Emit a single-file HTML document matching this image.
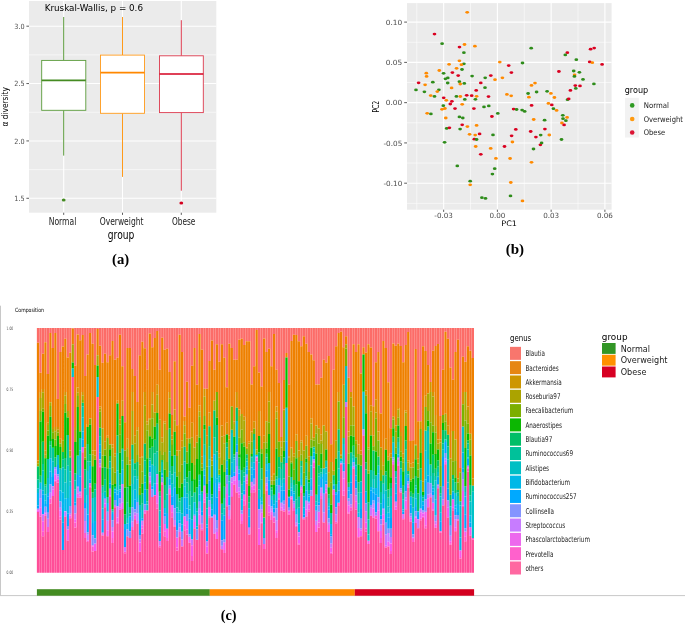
<!DOCTYPE html>
<html><head><meta charset="utf-8"><style>
html,body{margin:0;padding:0;background:#fff;width:685px;height:624px;overflow:hidden}
svg{display:block}
.gl{font-stretch:condensed}
</style></head><body>
<svg width="685" height="624" viewBox="0 0 685 624">
<defs><filter id="soft" x="0" y="0" width="1" height="1" color-interpolation-filters="sRGB"><feGaussianBlur stdDeviation="0.35"/></filter></defs>
<rect width="685" height="624" fill="#fff"/>
<g filter="url(#soft)">
<rect width="685" height="624" fill="#fff"/>
<rect x="29.0" y="1.0" width="187.30" height="211.70" fill="#EBEBEB"/>
<line x1="29.0" x2="216.3" y1="169.61" y2="169.61" stroke="#fff" stroke-width="0.55"/>
<line x1="29.0" x2="216.3" y1="112.25" y2="112.25" stroke="#fff" stroke-width="0.55"/>
<line x1="29.0" x2="216.3" y1="54.88" y2="54.88" stroke="#fff" stroke-width="0.55"/>
<line x1="29.0" x2="216.3" y1="198.29" y2="198.29" stroke="#fff" stroke-width="1.1"/>
<line x1="29.0" x2="216.3" y1="140.93" y2="140.93" stroke="#fff" stroke-width="1.1"/>
<line x1="29.0" x2="216.3" y1="83.56" y2="83.56" stroke="#fff" stroke-width="1.1"/>
<line x1="29.0" x2="216.3" y1="26.20" y2="26.20" stroke="#fff" stroke-width="1.1"/>
<line x1="63.7" x2="63.7" y1="1.0" y2="212.7" stroke="#fff" stroke-width="1.1"/>
<line x1="122.5" x2="122.5" y1="1.0" y2="212.7" stroke="#fff" stroke-width="1.1"/>
<line x1="181.3" x2="181.3" y1="1.0" y2="212.7" stroke="#fff" stroke-width="1.1"/>
<line x1="63.7" x2="63.7" y1="17.0" y2="60.4" stroke="#5A9A3A" stroke-width="1"/>
<line x1="63.7" x2="63.7" y1="110.3" y2="155.6" stroke="#5A9A3A" stroke-width="1"/>
<rect x="41.7" y="60.4" width="44.10" height="49.90" fill="#fff" stroke="#5A9A3A" stroke-width="0.9"/>
<line x1="41.7" x2="85.8" y1="80.4" y2="80.4" stroke="#458B22" stroke-width="1.7"/>
<ellipse cx="63.7" cy="200.1" rx="1.9" ry="1.5" fill="#458B22"/>
<line x1="122.5" x2="122.5" y1="17.0" y2="55.1" stroke="#FF9A1A" stroke-width="1"/>
<line x1="122.5" x2="122.5" y1="113.3" y2="176.9" stroke="#FF9A1A" stroke-width="1"/>
<rect x="100.5" y="55.1" width="44.00" height="58.20" fill="#fff" stroke="#FF9A1A" stroke-width="0.9"/>
<line x1="100.5" x2="144.5" y1="72.7" y2="72.7" stroke="#FF8800" stroke-width="1.7"/>
<line x1="181.3" x2="181.3" y1="20.2" y2="55.8" stroke="#DC3A4E" stroke-width="1"/>
<line x1="181.3" x2="181.3" y1="112.6" y2="190.7" stroke="#DC3A4E" stroke-width="1"/>
<rect x="159.5" y="55.8" width="43.80" height="56.80" fill="#fff" stroke="#DC3A4E" stroke-width="0.9"/>
<line x1="159.5" x2="203.3" y1="74.0" y2="74.0" stroke="#D4001F" stroke-width="1.7"/>
<ellipse cx="181.3" cy="203.1" rx="1.9" ry="1.5" fill="#D4001F"/>
<line x1="26.4" x2="29.0" y1="198.29" y2="198.29" stroke="#333" stroke-width="0.8"/>
<text x="24.60" y="200.89" font-size="7.2" fill="#4D4D4D" font-family="DejaVu Sans, Liberation Sans, sans-serif" text-anchor="end" textLength="10.30" lengthAdjust="spacingAndGlyphs">1.5</text>
<line x1="26.4" x2="29.0" y1="140.93" y2="140.93" stroke="#333" stroke-width="0.8"/>
<text x="24.60" y="143.53" font-size="7.2" fill="#4D4D4D" font-family="DejaVu Sans, Liberation Sans, sans-serif" text-anchor="end" textLength="10.30" lengthAdjust="spacingAndGlyphs">2.0</text>
<line x1="26.4" x2="29.0" y1="83.56" y2="83.56" stroke="#333" stroke-width="0.8"/>
<text x="24.60" y="86.16" font-size="7.2" fill="#4D4D4D" font-family="DejaVu Sans, Liberation Sans, sans-serif" text-anchor="end" textLength="10.30" lengthAdjust="spacingAndGlyphs">2.5</text>
<line x1="26.4" x2="29.0" y1="26.20" y2="26.20" stroke="#333" stroke-width="0.8"/>
<text x="24.60" y="28.80" font-size="7.2" fill="#4D4D4D" font-family="DejaVu Sans, Liberation Sans, sans-serif" text-anchor="end" textLength="10.30" lengthAdjust="spacingAndGlyphs">3.0</text>
<line x1="63.7" x2="63.7" y1="212.7" y2="214.90" stroke="#333" stroke-width="0.8"/>
<line x1="122.5" x2="122.5" y1="212.7" y2="214.90" stroke="#333" stroke-width="0.8"/>
<line x1="181.3" x2="181.3" y1="212.7" y2="214.90" stroke="#333" stroke-width="0.8"/>
<text x="48.70" y="224.60" font-size="10" fill="#1A1A1A" font-family="DejaVu Sans, Liberation Sans, sans-serif" textLength="27.60" lengthAdjust="spacingAndGlyphs">Normal</text>
<text x="99.70" y="224.70" font-size="10" fill="#1A1A1A" font-family="DejaVu Sans, Liberation Sans, sans-serif" textLength="43.80" lengthAdjust="spacingAndGlyphs">Overweight</text>
<text x="172.00" y="224.70" font-size="10" fill="#1A1A1A" font-family="DejaVu Sans, Liberation Sans, sans-serif" textLength="23.40" lengthAdjust="spacingAndGlyphs">Obese</text>
<text x="107.80" y="239.00" font-size="13" fill="#000" font-family="DejaVu Sans, Liberation Sans, sans-serif" textLength="26.50" lengthAdjust="spacingAndGlyphs">group</text>
<text x="7.60" y="126.50" font-size="8.8" fill="#000" font-family="DejaVu Sans, Liberation Sans, sans-serif" textLength="39.30" lengthAdjust="spacingAndGlyphs" transform="rotate(-90 7.60 126.50)">α diversity</text>
<text x="44.70" y="10.90" font-size="8.2" fill="#000" font-family="DejaVu Sans, Liberation Sans, sans-serif" textLength="98.30" lengthAdjust="spacingAndGlyphs">Kruskal-Wallis, p = 0.6</text>
<text x="112.00" y="264.00" font-size="15" fill="#000" font-family="Liberation Serif, serif" font-weight="bold" textLength="17.20" lengthAdjust="spacingAndGlyphs">(a)</text>
<rect x="407.0" y="3.1" width="204.60" height="206.60" fill="#EBEBEB"/>
<line x1="407.0" x2="611.6" y1="203.34" y2="203.34" stroke="#fff" stroke-width="0.55"/>
<line x1="407.0" x2="611.6" y1="163.06" y2="163.06" stroke="#fff" stroke-width="0.55"/>
<line x1="407.0" x2="611.6" y1="122.79" y2="122.79" stroke="#fff" stroke-width="0.55"/>
<line x1="407.0" x2="611.6" y1="82.51" y2="82.51" stroke="#fff" stroke-width="0.55"/>
<line x1="407.0" x2="611.6" y1="42.24" y2="42.24" stroke="#fff" stroke-width="0.55"/>
<line x1="416.77" x2="416.77" y1="3.1" y2="209.7" stroke="#fff" stroke-width="0.55"/>
<line x1="470.52" x2="470.52" y1="3.1" y2="209.7" stroke="#fff" stroke-width="0.55"/>
<line x1="524.28" x2="524.28" y1="3.1" y2="209.7" stroke="#fff" stroke-width="0.55"/>
<line x1="578.03" x2="578.03" y1="3.1" y2="209.7" stroke="#fff" stroke-width="0.55"/>
<line x1="407.0" x2="611.6" y1="183.20" y2="183.20" stroke="#fff" stroke-width="1.1"/>
<line x1="407.0" x2="611.6" y1="142.93" y2="142.93" stroke="#fff" stroke-width="1.1"/>
<line x1="407.0" x2="611.6" y1="102.65" y2="102.65" stroke="#fff" stroke-width="1.1"/>
<line x1="407.0" x2="611.6" y1="62.38" y2="62.38" stroke="#fff" stroke-width="1.1"/>
<line x1="407.0" x2="611.6" y1="22.10" y2="22.10" stroke="#fff" stroke-width="1.1"/>
<line x1="443.65" x2="443.65" y1="3.1" y2="209.7" stroke="#fff" stroke-width="1.1"/>
<line x1="497.40" x2="497.40" y1="3.1" y2="209.7" stroke="#fff" stroke-width="1.1"/>
<line x1="551.15" x2="551.15" y1="3.1" y2="209.7" stroke="#fff" stroke-width="1.1"/>
<line x1="604.90" x2="604.90" y1="3.1" y2="209.7" stroke="#fff" stroke-width="1.1"/>
<ellipse cx="467.2" cy="12.3" rx="1.85" ry="1.4" fill="#FF8A00"/>
<ellipse cx="434.5" cy="34.1" rx="1.85" ry="1.4" fill="#DA0020"/>
<ellipse cx="442.1" cy="43.7" rx="1.85" ry="1.4" fill="#2E8C1A"/>
<ellipse cx="464.5" cy="44.5" rx="1.85" ry="1.4" fill="#FF8A00"/>
<ellipse cx="459.5" cy="47.1" rx="1.85" ry="1.4" fill="#DA0020"/>
<ellipse cx="474.9" cy="46.2" rx="1.85" ry="1.4" fill="#FF8A00"/>
<ellipse cx="463.9" cy="52.7" rx="1.85" ry="1.4" fill="#2E8C1A"/>
<ellipse cx="459.4" cy="60.8" rx="1.85" ry="1.4" fill="#FF8A00"/>
<ellipse cx="449.1" cy="64.3" rx="1.85" ry="1.4" fill="#FF8A00"/>
<ellipse cx="463.9" cy="63.8" rx="1.85" ry="1.4" fill="#2E8C1A"/>
<ellipse cx="461.4" cy="64.7" rx="1.85" ry="1.4" fill="#FF8A00"/>
<ellipse cx="456.6" cy="68.3" rx="1.85" ry="1.4" fill="#FF8A00"/>
<ellipse cx="462.0" cy="69.5" rx="1.85" ry="1.4" fill="#2E8C1A"/>
<ellipse cx="439.3" cy="70.5" rx="1.85" ry="1.4" fill="#FF8A00"/>
<ellipse cx="426.3" cy="73.2" rx="1.85" ry="1.4" fill="#FF8A00"/>
<ellipse cx="426.6" cy="76.4" rx="1.85" ry="1.4" fill="#FF8A00"/>
<ellipse cx="443.6" cy="73.3" rx="1.85" ry="1.4" fill="#2E8C1A"/>
<ellipse cx="452.4" cy="72.6" rx="1.85" ry="1.4" fill="#DA0020"/>
<ellipse cx="458.2" cy="75.6" rx="1.85" ry="1.4" fill="#DA0020"/>
<ellipse cx="472.1" cy="76.1" rx="1.85" ry="1.4" fill="#2E8C1A"/>
<ellipse cx="445.4" cy="78.8" rx="1.85" ry="1.4" fill="#2E8C1A"/>
<ellipse cx="447.8" cy="77.9" rx="1.85" ry="1.4" fill="#2E8C1A"/>
<ellipse cx="418.6" cy="82.8" rx="1.85" ry="1.4" fill="#DA0020"/>
<ellipse cx="432.8" cy="82.2" rx="1.85" ry="1.4" fill="#2E8C1A"/>
<ellipse cx="425.1" cy="84.8" rx="1.85" ry="1.4" fill="#FF8A00"/>
<ellipse cx="447.7" cy="83.0" rx="1.85" ry="1.4" fill="#2E8C1A"/>
<ellipse cx="459.4" cy="81.7" rx="1.85" ry="1.4" fill="#2E8C1A"/>
<ellipse cx="460.3" cy="84.0" rx="1.85" ry="1.4" fill="#FF8A00"/>
<ellipse cx="464.3" cy="83.4" rx="1.85" ry="1.4" fill="#2E8C1A"/>
<ellipse cx="416.0" cy="89.9" rx="1.85" ry="1.4" fill="#2E8C1A"/>
<ellipse cx="424.4" cy="91.8" rx="1.85" ry="1.4" fill="#2E8C1A"/>
<ellipse cx="438.9" cy="89.8" rx="1.85" ry="1.4" fill="#2E8C1A"/>
<ellipse cx="437.3" cy="91.6" rx="1.85" ry="1.4" fill="#FF8A00"/>
<ellipse cx="451.6" cy="87.9" rx="1.85" ry="1.4" fill="#FF8A00"/>
<ellipse cx="476.2" cy="90.4" rx="1.85" ry="1.4" fill="#DA0020"/>
<ellipse cx="430.7" cy="95.6" rx="1.85" ry="1.4" fill="#FF8A00"/>
<ellipse cx="434.5" cy="96.4" rx="1.85" ry="1.4" fill="#2E8C1A"/>
<ellipse cx="456.4" cy="96.4" rx="1.85" ry="1.4" fill="#2E8C1A"/>
<ellipse cx="460.3" cy="96.5" rx="1.85" ry="1.4" fill="#FF8A00"/>
<ellipse cx="466.7" cy="95.3" rx="1.85" ry="1.4" fill="#DA0020"/>
<ellipse cx="471.7" cy="95.7" rx="1.85" ry="1.4" fill="#DA0020"/>
<ellipse cx="476.6" cy="96.3" rx="1.85" ry="1.4" fill="#FF8A00"/>
<ellipse cx="443.7" cy="97.8" rx="1.85" ry="1.4" fill="#DA0020"/>
<ellipse cx="446.3" cy="100.3" rx="1.85" ry="1.4" fill="#FF8A00"/>
<ellipse cx="464.8" cy="99.4" rx="1.85" ry="1.4" fill="#2E8C1A"/>
<ellipse cx="475.4" cy="99.3" rx="1.85" ry="1.4" fill="#2E8C1A"/>
<ellipse cx="451.9" cy="101.3" rx="1.85" ry="1.4" fill="#DA0020"/>
<ellipse cx="450.3" cy="104.0" rx="1.85" ry="1.4" fill="#DA0020"/>
<ellipse cx="462.2" cy="104.3" rx="1.85" ry="1.4" fill="#FF8A00"/>
<ellipse cx="443.3" cy="105.7" rx="1.85" ry="1.4" fill="#2E8C1A"/>
<ellipse cx="442.0" cy="109.3" rx="1.85" ry="1.4" fill="#FF8A00"/>
<ellipse cx="444.9" cy="108.5" rx="1.85" ry="1.4" fill="#FF8A00"/>
<ellipse cx="455.0" cy="108.6" rx="1.85" ry="1.4" fill="#DA0020"/>
<ellipse cx="473.9" cy="108.6" rx="1.85" ry="1.4" fill="#DA0020"/>
<ellipse cx="427.2" cy="113.3" rx="1.85" ry="1.4" fill="#FF8A00"/>
<ellipse cx="430.9" cy="113.9" rx="1.85" ry="1.4" fill="#2E8C1A"/>
<ellipse cx="445.8" cy="118.0" rx="1.85" ry="1.4" fill="#FF8A00"/>
<ellipse cx="459.4" cy="116.9" rx="1.85" ry="1.4" fill="#2E8C1A"/>
<ellipse cx="462.8" cy="118.0" rx="1.85" ry="1.4" fill="#2E8C1A"/>
<ellipse cx="462.2" cy="124.8" rx="1.85" ry="1.4" fill="#DA0020"/>
<ellipse cx="467.4" cy="126.6" rx="1.85" ry="1.4" fill="#FF8A00"/>
<ellipse cx="476.6" cy="125.4" rx="1.85" ry="1.4" fill="#FF8A00"/>
<ellipse cx="446.7" cy="128.4" rx="1.85" ry="1.4" fill="#2E8C1A"/>
<ellipse cx="449.4" cy="127.8" rx="1.85" ry="1.4" fill="#DA0020"/>
<ellipse cx="460.1" cy="129.1" rx="1.85" ry="1.4" fill="#2E8C1A"/>
<ellipse cx="469.6" cy="134.3" rx="1.85" ry="1.4" fill="#FF8A00"/>
<ellipse cx="475.2" cy="135.1" rx="1.85" ry="1.4" fill="#FF8A00"/>
<ellipse cx="474.3" cy="139.2" rx="1.85" ry="1.4" fill="#DA0020"/>
<ellipse cx="476.6" cy="139.5" rx="1.85" ry="1.4" fill="#2E8C1A"/>
<ellipse cx="444.6" cy="142.3" rx="1.85" ry="1.4" fill="#2E8C1A"/>
<ellipse cx="475.7" cy="146.5" rx="1.85" ry="1.4" fill="#FF8A00"/>
<ellipse cx="457.3" cy="165.9" rx="1.85" ry="1.4" fill="#2E8C1A"/>
<ellipse cx="470.2" cy="181.2" rx="1.85" ry="1.4" fill="#2E8C1A"/>
<ellipse cx="470.2" cy="184.8" rx="1.85" ry="1.4" fill="#FF8A00"/>
<ellipse cx="531.2" cy="48.2" rx="1.85" ry="1.4" fill="#2E8C1A"/>
<ellipse cx="499.8" cy="62.1" rx="1.85" ry="1.4" fill="#FF8A00"/>
<ellipse cx="522.5" cy="63.0" rx="1.85" ry="1.4" fill="#2E8C1A"/>
<ellipse cx="508.7" cy="65.6" rx="1.85" ry="1.4" fill="#DA0020"/>
<ellipse cx="485.2" cy="77.8" rx="1.85" ry="1.4" fill="#2E8C1A"/>
<ellipse cx="490.8" cy="75.6" rx="1.85" ry="1.4" fill="#DA0020"/>
<ellipse cx="495.0" cy="79.7" rx="1.85" ry="1.4" fill="#FF8A00"/>
<ellipse cx="502.4" cy="77.8" rx="1.85" ry="1.4" fill="#FF8A00"/>
<ellipse cx="511.4" cy="72.6" rx="1.85" ry="1.4" fill="#DA0020"/>
<ellipse cx="480.8" cy="82.9" rx="1.85" ry="1.4" fill="#DA0020"/>
<ellipse cx="485.0" cy="87.7" rx="1.85" ry="1.4" fill="#2E8C1A"/>
<ellipse cx="488.5" cy="96.6" rx="1.85" ry="1.4" fill="#DA0020"/>
<ellipse cx="506.9" cy="94.4" rx="1.85" ry="1.4" fill="#FF8A00"/>
<ellipse cx="511.2" cy="95.8" rx="1.85" ry="1.4" fill="#FF8A00"/>
<ellipse cx="535.0" cy="83.1" rx="1.85" ry="1.4" fill="#FF8A00"/>
<ellipse cx="531.5" cy="85.4" rx="1.85" ry="1.4" fill="#FF8A00"/>
<ellipse cx="528.1" cy="93.5" rx="1.85" ry="1.4" fill="#2E8C1A"/>
<ellipse cx="536.6" cy="92.0" rx="1.85" ry="1.4" fill="#2E8C1A"/>
<ellipse cx="528.9" cy="97.2" rx="1.85" ry="1.4" fill="#FF8A00"/>
<ellipse cx="484.0" cy="106.9" rx="1.85" ry="1.4" fill="#2E8C1A"/>
<ellipse cx="488.8" cy="105.9" rx="1.85" ry="1.4" fill="#2E8C1A"/>
<ellipse cx="513.6" cy="109.1" rx="1.85" ry="1.4" fill="#DA0020"/>
<ellipse cx="516.6" cy="109.5" rx="1.85" ry="1.4" fill="#2E8C1A"/>
<ellipse cx="522.1" cy="110.1" rx="1.85" ry="1.4" fill="#2E8C1A"/>
<ellipse cx="524.7" cy="111.4" rx="1.85" ry="1.4" fill="#2E8C1A"/>
<ellipse cx="531.6" cy="105.4" rx="1.85" ry="1.4" fill="#DA0020"/>
<ellipse cx="497.8" cy="113.4" rx="1.85" ry="1.4" fill="#2E8C1A"/>
<ellipse cx="491.9" cy="116.5" rx="1.85" ry="1.4" fill="#DA0020"/>
<ellipse cx="533.7" cy="119.5" rx="1.85" ry="1.4" fill="#FF8A00"/>
<ellipse cx="479.6" cy="133.9" rx="1.85" ry="1.4" fill="#DA0020"/>
<ellipse cx="493.0" cy="134.9" rx="1.85" ry="1.4" fill="#2E8C1A"/>
<ellipse cx="515.8" cy="129.4" rx="1.85" ry="1.4" fill="#DA0020"/>
<ellipse cx="511.6" cy="135.8" rx="1.85" ry="1.4" fill="#DA0020"/>
<ellipse cx="530.7" cy="131.5" rx="1.85" ry="1.4" fill="#DA0020"/>
<ellipse cx="535.9" cy="137.1" rx="1.85" ry="1.4" fill="#DA0020"/>
<ellipse cx="540.7" cy="135.1" rx="1.85" ry="1.4" fill="#2E8C1A"/>
<ellipse cx="512.4" cy="142.0" rx="1.85" ry="1.4" fill="#FF8A00"/>
<ellipse cx="540.4" cy="144.8" rx="1.85" ry="1.4" fill="#DA0020"/>
<ellipse cx="541.6" cy="142.9" rx="1.85" ry="1.4" fill="#2E8C1A"/>
<ellipse cx="490.7" cy="148.4" rx="1.85" ry="1.4" fill="#FF8A00"/>
<ellipse cx="504.5" cy="146.5" rx="1.85" ry="1.4" fill="#DA0020"/>
<ellipse cx="533.5" cy="149.0" rx="1.85" ry="1.4" fill="#2E8C1A"/>
<ellipse cx="480.8" cy="154.3" rx="1.85" ry="1.4" fill="#DA0020"/>
<ellipse cx="495.9" cy="158.4" rx="1.85" ry="1.4" fill="#FF8A00"/>
<ellipse cx="510.1" cy="158.5" rx="1.85" ry="1.4" fill="#FF8A00"/>
<ellipse cx="531.5" cy="162.3" rx="1.85" ry="1.4" fill="#FF8A00"/>
<ellipse cx="494.7" cy="168.7" rx="1.85" ry="1.4" fill="#2E8C1A"/>
<ellipse cx="492.4" cy="174.1" rx="1.85" ry="1.4" fill="#2E8C1A"/>
<ellipse cx="510.8" cy="182.5" rx="1.85" ry="1.4" fill="#FF8A00"/>
<ellipse cx="481.9" cy="197.7" rx="1.85" ry="1.4" fill="#2E8C1A"/>
<ellipse cx="485.5" cy="198.4" rx="1.85" ry="1.4" fill="#2E8C1A"/>
<ellipse cx="510.5" cy="195.9" rx="1.85" ry="1.4" fill="#2E8C1A"/>
<ellipse cx="522.5" cy="200.9" rx="1.85" ry="1.4" fill="#FF8A00"/>
<ellipse cx="567.3" cy="52.7" rx="1.85" ry="1.4" fill="#DA0020"/>
<ellipse cx="565.3" cy="54.9" rx="1.85" ry="1.4" fill="#2E8C1A"/>
<ellipse cx="576.3" cy="59.7" rx="1.85" ry="1.4" fill="#2E8C1A"/>
<ellipse cx="590.6" cy="49.2" rx="1.85" ry="1.4" fill="#DA0020"/>
<ellipse cx="594.2" cy="48.1" rx="1.85" ry="1.4" fill="#DA0020"/>
<ellipse cx="589.7" cy="61.9" rx="1.85" ry="1.4" fill="#DA0020"/>
<ellipse cx="592.3" cy="62.7" rx="1.85" ry="1.4" fill="#FF8A00"/>
<ellipse cx="602.1" cy="64.4" rx="1.85" ry="1.4" fill="#DA0020"/>
<ellipse cx="558.9" cy="71.5" rx="1.85" ry="1.4" fill="#DA0020"/>
<ellipse cx="573.7" cy="71.0" rx="1.85" ry="1.4" fill="#2E8C1A"/>
<ellipse cx="579.4" cy="72.3" rx="1.85" ry="1.4" fill="#2E8C1A"/>
<ellipse cx="574.6" cy="75.0" rx="1.85" ry="1.4" fill="#FF8A00"/>
<ellipse cx="574.4" cy="76.4" rx="1.85" ry="1.4" fill="#2E8C1A"/>
<ellipse cx="583.0" cy="79.4" rx="1.85" ry="1.4" fill="#2E8C1A"/>
<ellipse cx="593.9" cy="83.9" rx="1.85" ry="1.4" fill="#2E8C1A"/>
<ellipse cx="575.3" cy="85.6" rx="1.85" ry="1.4" fill="#DA0020"/>
<ellipse cx="580.0" cy="85.9" rx="1.85" ry="1.4" fill="#DA0020"/>
<ellipse cx="575.8" cy="88.4" rx="1.85" ry="1.4" fill="#2E8C1A"/>
<ellipse cx="570.4" cy="90.4" rx="1.85" ry="1.4" fill="#DA0020"/>
<ellipse cx="547.1" cy="91.3" rx="1.85" ry="1.4" fill="#2E8C1A"/>
<ellipse cx="550.9" cy="93.4" rx="1.85" ry="1.4" fill="#FF8A00"/>
<ellipse cx="554.4" cy="97.5" rx="1.85" ry="1.4" fill="#FF8A00"/>
<ellipse cx="567.5" cy="99.7" rx="1.85" ry="1.4" fill="#2E8C1A"/>
<ellipse cx="568.7" cy="98.9" rx="1.85" ry="1.4" fill="#DA0020"/>
<ellipse cx="548.4" cy="103.4" rx="1.85" ry="1.4" fill="#FF8A00"/>
<ellipse cx="551.8" cy="104.9" rx="1.85" ry="1.4" fill="#DA0020"/>
<ellipse cx="553.4" cy="108.7" rx="1.85" ry="1.4" fill="#2E8C1A"/>
<ellipse cx="556.6" cy="110.4" rx="1.85" ry="1.4" fill="#FF8A00"/>
<ellipse cx="562.8" cy="115.3" rx="1.85" ry="1.4" fill="#2E8C1A"/>
<ellipse cx="567.1" cy="117.4" rx="1.85" ry="1.4" fill="#FF8A00"/>
<ellipse cx="563.0" cy="118.7" rx="1.85" ry="1.4" fill="#2E8C1A"/>
<ellipse cx="565.9" cy="120.7" rx="1.85" ry="1.4" fill="#2E8C1A"/>
<ellipse cx="561.9" cy="123.0" rx="1.85" ry="1.4" fill="#FF8A00"/>
<ellipse cx="564.1" cy="124.9" rx="1.85" ry="1.4" fill="#DA0020"/>
<ellipse cx="544.6" cy="120.2" rx="1.85" ry="1.4" fill="#2E8C1A"/>
<ellipse cx="544.9" cy="129.1" rx="1.85" ry="1.4" fill="#DA0020"/>
<ellipse cx="549.3" cy="135.0" rx="1.85" ry="1.4" fill="#FF8A00"/>
<ellipse cx="561.5" cy="139.5" rx="1.85" ry="1.4" fill="#2E8C1A"/>
<line x1="404.2" x2="407.0" y1="183.20" y2="183.20" stroke="#333" stroke-width="0.8"/>
<text x="402.30" y="185.80" font-size="7.2" fill="#4D4D4D" font-family="DejaVu Sans, Liberation Sans, sans-serif" text-anchor="end" textLength="18.80" lengthAdjust="spacingAndGlyphs">-0.10</text>
<line x1="404.2" x2="407.0" y1="142.93" y2="142.93" stroke="#333" stroke-width="0.8"/>
<text x="402.30" y="145.53" font-size="7.2" fill="#4D4D4D" font-family="DejaVu Sans, Liberation Sans, sans-serif" text-anchor="end" textLength="18.80" lengthAdjust="spacingAndGlyphs">-0.05</text>
<line x1="404.2" x2="407.0" y1="102.65" y2="102.65" stroke="#333" stroke-width="0.8"/>
<text x="402.30" y="105.25" font-size="7.2" fill="#4D4D4D" font-family="DejaVu Sans, Liberation Sans, sans-serif" text-anchor="end" textLength="16.50" lengthAdjust="spacingAndGlyphs">0.00</text>
<line x1="404.2" x2="407.0" y1="62.38" y2="62.38" stroke="#333" stroke-width="0.8"/>
<text x="402.30" y="64.97" font-size="7.2" fill="#4D4D4D" font-family="DejaVu Sans, Liberation Sans, sans-serif" text-anchor="end" textLength="16.50" lengthAdjust="spacingAndGlyphs">0.05</text>
<line x1="404.2" x2="407.0" y1="22.10" y2="22.10" stroke="#333" stroke-width="0.8"/>
<text x="402.30" y="24.70" font-size="7.2" fill="#4D4D4D" font-family="DejaVu Sans, Liberation Sans, sans-serif" text-anchor="end" textLength="16.50" lengthAdjust="spacingAndGlyphs">0.10</text>
<line x1="443.65" x2="443.65" y1="209.7" y2="211.90" stroke="#333" stroke-width="0.8"/>
<text x="443.65" y="218.40" font-size="7.2" fill="#4D4D4D" font-family="DejaVu Sans, Liberation Sans, sans-serif" text-anchor="middle">-0.03</text>
<line x1="497.40" x2="497.40" y1="209.7" y2="211.90" stroke="#333" stroke-width="0.8"/>
<text x="497.40" y="218.40" font-size="7.2" fill="#4D4D4D" font-family="DejaVu Sans, Liberation Sans, sans-serif" text-anchor="middle">0.00</text>
<line x1="551.15" x2="551.15" y1="209.7" y2="211.90" stroke="#333" stroke-width="0.8"/>
<text x="551.15" y="218.40" font-size="7.2" fill="#4D4D4D" font-family="DejaVu Sans, Liberation Sans, sans-serif" text-anchor="middle">0.03</text>
<line x1="604.90" x2="604.90" y1="209.7" y2="211.90" stroke="#333" stroke-width="0.8"/>
<text x="604.90" y="218.40" font-size="7.2" fill="#4D4D4D" font-family="DejaVu Sans, Liberation Sans, sans-serif" text-anchor="middle">0.06</text>
<text x="501.30" y="226.40" font-size="7.6" fill="#000" font-family="DejaVu Sans, Liberation Sans, sans-serif" textLength="15.70" lengthAdjust="spacingAndGlyphs">PC1</text>
<text x="378.90" y="112.60" font-size="9.5" fill="#000" font-family="DejaVu Sans, Liberation Sans, sans-serif" textLength="11.80" lengthAdjust="spacingAndGlyphs" transform="rotate(-90 378.90 112.60)">PC2</text>
<text x="505.70" y="254.00" font-size="15" fill="#000" font-family="Liberation Serif, serif" font-weight="bold" textLength="18.40" lengthAdjust="spacingAndGlyphs">(b)</text>
<text x="624.70" y="93.00" font-size="9.5" fill="#000" font-family="DejaVu Sans, Liberation Sans, sans-serif" textLength="23.50" lengthAdjust="spacingAndGlyphs">group</text>
<rect x="625" y="97.8" width="13.8" height="39.7" fill="#F2F2F2"/>
<circle cx="632.2" cy="105.40" r="2.3" fill="#2E9A22"/>
<text x="643.70" y="108.20" font-size="7.8" fill="#1A1A1A" font-family="DejaVu Sans, Liberation Sans, sans-serif" textLength="25.20" lengthAdjust="spacingAndGlyphs">Normal</text>
<circle cx="632.2" cy="118.95" r="2.3" fill="#FF9A10"/>
<text x="643.70" y="121.75" font-size="7.8" fill="#1A1A1A" font-family="DejaVu Sans, Liberation Sans, sans-serif" textLength="39.30" lengthAdjust="spacingAndGlyphs">Overweight</text>
<circle cx="632.2" cy="132.50" r="2.3" fill="#DC1535"/>
<text x="643.70" y="135.30" font-size="7.8" fill="#1A1A1A" font-family="DejaVu Sans, Liberation Sans, sans-serif" textLength="21.40" lengthAdjust="spacingAndGlyphs">Obese</text>
<line x1="0.5" x2="0.5" y1="305.7" y2="596" stroke="#C8C8C8" stroke-width="1"/>
<line x1="0" x2="685" y1="595.6" y2="595.6" stroke="#C8C8C8" stroke-width="1"/>
<text x="15.10" y="312.30" font-size="5.8" fill="#000" font-family="DejaVu Sans, Liberation Sans, sans-serif" textLength="28.80" lengthAdjust="spacingAndGlyphs">Composition</text>
<text x="6.60" y="329.50" font-size="4.6" fill="#4D4D4D" font-family="DejaVu Sans, Liberation Sans, sans-serif" textLength="6.60" lengthAdjust="spacingAndGlyphs">1.00</text>
<text x="6.60" y="390.68" font-size="4.6" fill="#4D4D4D" font-family="DejaVu Sans, Liberation Sans, sans-serif" textLength="6.60" lengthAdjust="spacingAndGlyphs">0.75</text>
<text x="6.60" y="451.85" font-size="4.6" fill="#4D4D4D" font-family="DejaVu Sans, Liberation Sans, sans-serif" textLength="6.60" lengthAdjust="spacingAndGlyphs">0.50</text>
<text x="6.60" y="513.02" font-size="4.6" fill="#4D4D4D" font-family="DejaVu Sans, Liberation Sans, sans-serif" textLength="6.60" lengthAdjust="spacingAndGlyphs">0.25</text>
<text x="6.60" y="574.20" font-size="4.6" fill="#4D4D4D" font-family="DejaVu Sans, Liberation Sans, sans-serif" textLength="6.60" lengthAdjust="spacingAndGlyphs">0.00</text>
<path fill="#FC6C68" d="M36.86 327.90h2.26v14.89h-2.26zM39.34 327.90h2.26v44.82h-2.26zM41.83 327.90h2.26v25.84h-2.26zM44.31 327.90h2.26v14.45h-2.26zM46.80 327.90h2.26v45.98h-2.26zM49.28 327.90h2.26v5.11h-2.26zM51.77 327.90h2.26v20.00h-2.26zM54.25 327.90h2.26v5.11h-2.26zM56.74 327.90h2.26v71.08h-2.26zM59.22 327.90h2.26v24.09h-2.26zM61.71 327.90h2.26v18.54h-2.26zM64.19 327.90h2.26v10.95h-2.26zM66.68 327.90h2.26v29.49h-2.26zM69.16 327.90h2.26v24.67h-2.26zM71.65 327.90h2.26v0.70h-2.26zM74.13 327.90h2.26v37.52h-2.26zM76.62 327.90h2.26v6.57h-2.26zM79.10 327.90h2.26v12.26h-2.26zM81.59 327.90h2.26v7.15h-2.26zM84.07 327.90h2.26v48.03h-2.26zM86.56 327.90h2.26v26.57h-2.26zM89.04 327.90h2.26v5.11h-2.26zM91.53 327.90h2.26v15.91h-2.26zM94.01 327.90h2.26v37.22h-2.26zM96.50 327.90h2.26v1.10h-2.26zM98.98 327.90h2.26v17.95h-2.26zM101.47 327.90h2.26v34.89h-2.26zM103.95 327.90h2.26v25.84h-2.26zM106.44 327.90h2.26v34.30h-2.26zM108.92 327.90h2.26v27.30h-2.26zM111.41 327.90h2.26v12.99h-2.26zM113.89 327.90h2.26v31.97h-2.26zM116.38 327.90h2.26v29.92h-2.26zM118.86 327.90h2.26v6.86h-2.26zM121.35 327.90h2.26v38.25h-2.26zM123.83 327.90h2.26v94.44h-2.26zM126.32 327.90h2.26v20.00h-2.26zM128.80 327.90h2.26v20.00h-2.26zM131.29 327.90h2.26v41.17h-2.26zM133.77 327.90h2.26v48.03h-2.26zM136.26 327.90h2.26v74.00h-2.26zM138.74 327.90h2.26v27.30h-2.26zM141.23 327.90h2.26v13.87h-2.26zM143.71 327.90h2.26v20.29h-2.26zM146.20 327.90h2.26v41.90h-2.26zM148.68 327.90h2.26v5.69h-2.26zM151.17 327.90h2.26v19.27h-2.26zM153.65 327.90h2.26v10.07h-2.26zM156.14 327.90h2.26v3.21h-2.26zM158.62 327.90h2.26v41.90h-2.26zM161.11 327.90h2.26v9.78h-2.26zM163.59 327.90h2.26v21.75h-2.26zM166.08 327.90h2.26v20.73h-2.26zM168.56 327.90h2.26v44.09h-2.26zM171.05 327.90h2.26v87.14h-2.26zM173.53 327.90h2.26v33.43h-2.26zM176.02 327.90h2.26v97.36h-2.26zM178.50 327.90h2.26v6.86h-2.26zM180.99 327.90h2.26v24.09h-2.26zM183.47 327.90h2.26v88.60h-2.26zM185.96 327.90h2.26v53.87h-2.26zM188.44 327.90h2.26v79.84h-2.26zM190.93 327.90h2.26v37.81h-2.26zM193.41 327.90h2.26v20.00h-2.26zM195.90 327.90h2.26v56.79h-2.26zM198.38 327.90h2.26v6.13h-2.26zM200.87 327.90h2.26v21.75h-2.26zM203.35 327.90h2.26v60.86h-2.26zM205.84 327.90h2.26v60.86h-2.26zM208.32 327.90h2.26v33.14h-2.26zM210.81 327.90h2.26v12.70h-2.26zM213.29 327.90h2.26v41.90h-2.26zM215.78 327.90h2.26v16.35h-2.26zM218.26 327.90h2.26v33.87h-2.26zM220.75 327.90h2.26v16.35h-2.26zM223.23 327.90h2.26v29.92h-2.26zM225.72 327.90h2.26v59.40h-2.26zM228.20 327.90h2.26v15.91h-2.26zM230.69 327.90h2.26v20.00h-2.26zM233.17 327.90h2.26v31.97h-2.26zM235.66 327.90h2.26v31.97h-2.26zM238.14 327.90h2.26v11.97h-2.26zM240.63 327.90h2.26v10.95h-2.26zM243.11 327.90h2.26v17.08h-2.26zM245.60 327.90h2.26v13.43h-2.26zM248.08 327.90h2.26v13.43h-2.26zM250.57 327.90h2.26v56.49h-2.26zM253.05 327.90h2.26v38.25h-2.26zM255.53 327.90h2.26v2.19h-2.26zM258.02 327.90h2.26v44.52h-2.26zM260.50 327.90h2.26v58.67h-2.26zM262.99 327.90h2.26v10.51h-2.26zM265.47 327.90h2.26v24.09h-2.26zM267.96 327.90h2.26v20.73h-2.26zM270.44 327.90h2.26v38.25h-2.26zM272.93 327.90h2.26v6.13h-2.26zM275.41 327.90h2.26v41.90h-2.26zM277.90 327.90h2.26v55.03h-2.26zM280.38 327.90h2.26v109.03h-2.26zM282.87 327.90h2.26v52.11h-2.26zM285.35 327.90h2.26v25.10h-2.26zM287.84 327.90h2.26v56.49h-2.26zM290.32 327.90h2.26v12.99h-2.26zM292.81 327.90h2.26v6.86h-2.26zM295.29 327.90h2.26v7.15h-2.26zM297.78 327.90h2.26v13.43h-2.26zM300.26 327.90h2.26v18.25h-2.26zM302.75 327.90h2.26v8.32h-2.26zM305.23 327.90h2.26v15.91h-2.26zM307.72 327.90h2.26v24.09h-2.26zM310.20 327.90h2.26v26.57h-2.26zM312.69 327.90h2.26v32.41h-2.26zM315.17 327.90h2.26v56.48h-2.26zM317.66 327.90h2.26v56.49h-2.26zM320.14 327.90h2.26v49.92h-2.26zM322.63 327.90h2.26v31.97h-2.26zM325.11 327.90h2.26v34.89h-2.26zM327.60 327.90h2.26v28.03h-2.26zM330.08 327.90h2.26v116.33h-2.26zM332.57 327.90h2.26v41.90h-2.26zM335.05 327.90h2.26v18.39h-2.26zM337.54 327.90h2.26v5.11h-2.26zM340.02 327.90h2.26v3.94h-2.26zM342.51 327.90h2.26v19.27h-2.26zM344.99 327.90h2.26v8.30h-2.26zM347.48 327.90h2.26v49.92h-2.26zM349.96 327.90h2.26v64.10h-2.26zM352.45 327.90h2.26v16.35h-2.26zM354.93 327.90h2.26v24.09h-2.26zM357.42 327.90h2.26v16.35h-2.26zM359.90 327.90h2.26v45.55h-2.26zM362.39 327.90h2.26v19.30h-2.26zM364.87 327.90h2.26v24.67h-2.26zM367.36 327.90h2.26v16.35h-2.26zM369.84 327.90h2.26v19.71h-2.26zM372.33 327.90h2.26v78.38h-2.26zM374.81 327.90h2.26v34.30h-2.26zM377.30 327.90h2.26v24.09h-2.26zM379.78 327.90h2.26v85.68h-2.26zM382.27 327.90h2.26v12.99h-2.26zM384.75 327.90h2.26v20.00h-2.26zM387.24 327.90h2.26v54.30h-2.26zM389.72 327.90h2.26v100.28h-2.26zM392.21 327.90h2.26v15.62h-2.26zM394.69 327.90h2.26v17.81h-2.26zM397.18 327.90h2.26v15.91h-2.26zM399.66 327.90h2.26v18.16h-2.26zM402.15 327.90h2.26v34.23h-2.26zM404.63 327.90h2.26v17.02h-2.26zM407.12 327.90h2.26v4.22h-2.26zM409.60 327.90h2.26v113.05h-2.26zM412.09 327.90h2.26v112.34h-2.26zM414.57 327.90h2.26v21.12h-2.26zM417.06 327.90h2.26v93.46h-2.26zM419.54 327.90h2.26v93.46h-2.26zM422.03 327.90h2.26v18.25h-2.26zM424.51 327.90h2.26v23.14h-2.26zM427.00 327.90h2.26v37.08h-2.26zM429.48 327.90h2.26v54.22h-2.26zM431.97 327.90h2.26v22.82h-2.26zM434.45 327.90h2.26v18.16h-2.26zM436.94 327.90h2.26v16.07h-2.26zM439.42 327.90h2.26v88.18h-2.26zM441.91 327.90h2.26v41.93h-2.26zM444.39 327.90h2.26v3.87h-2.26zM446.88 327.90h2.26v10.86h-2.26zM449.36 327.90h2.26v39.71h-2.26zM451.85 327.90h2.26v51.91h-2.26zM454.33 327.90h2.26v24.17h-2.26zM456.82 327.90h2.26v11.97h-2.26zM459.30 327.90h2.26v140.12h-2.26zM461.79 327.90h2.26v28.94h-2.26zM464.27 327.90h2.26v33.83h-2.26zM466.76 327.90h2.26v18.29h-2.26zM469.24 327.90h2.26v22.73h-2.26zM471.73 327.90h2.26v30.05h-2.26z"/>
<path fill="#EE8000" d="M36.86 342.79h2.26v117.82h-2.26zM39.34 372.72h2.26v19.28h-2.26zM41.83 353.74h2.26v35.34h-2.26zM44.31 342.35h2.26v108.04h-2.26zM46.80 373.88h2.26v48.77h-2.26zM49.28 333.01h2.26v69.21h-2.26zM51.77 347.90h2.26v79.14h-2.26zM54.25 333.01h2.26v94.03h-2.26zM56.74 398.98h2.26v28.06h-2.26zM59.22 351.99h2.26v86.73h-2.26zM61.71 346.44h2.26v93.74h-2.26zM64.19 338.85h2.26v53.15h-2.26zM66.68 357.39h2.26v53.59h-2.26zM69.16 352.57h2.26v97.82h-2.26zM71.65 328.60h2.26v15.60h-2.26zM74.13 365.42h2.26v61.62h-2.26zM76.62 334.47h2.26v53.15h-2.26zM79.10 340.16h2.26v83.96h-2.26zM81.59 335.05h2.26v56.95h-2.26zM84.07 375.93h2.26v67.17h-2.26zM86.56 354.47h2.26v69.65h-2.26zM89.04 333.01h2.26v85.27h-2.26zM91.53 343.81h2.26v106.58h-2.26zM94.01 365.12h2.26v85.27h-2.26zM96.50 329.00h2.26v26.20h-2.26zM98.98 345.85h2.26v60.74h-2.26zM101.47 362.79h2.26v65.71h-2.26zM103.95 353.74h2.26v87.90h-2.26zM106.44 362.20h2.26v73.59h-2.26zM108.92 355.20h2.26v89.36h-2.26zM111.41 340.89h2.26v103.66h-2.26zM113.89 359.87h2.26v93.45h-2.26zM116.38 357.82h2.26v42.93h-2.26zM118.86 334.76h2.26v84.98h-2.26zM121.35 366.15h2.26v34.61h-2.26zM123.83 422.34h2.26v28.06h-2.26zM126.32 347.90h2.26v90.82h-2.26zM128.80 347.90h2.26v112.72h-2.26zM131.29 369.07h2.26v22.93h-2.26zM133.77 375.93h2.26v59.87h-2.26zM136.26 401.90h2.26v25.14h-2.26zM138.74 355.20h2.26v102.50h-2.26zM141.23 341.77h2.26v114.47h-2.26zM143.71 348.19h2.26v43.81h-2.26zM146.20 369.80h2.26v51.40h-2.26zM148.68 333.59h2.26v84.69h-2.26zM151.17 347.17h2.26v44.83h-2.26zM153.65 337.97h2.26v74.47h-2.26zM156.14 331.11h2.26v53.59h-2.26zM158.62 369.80h2.26v49.94h-2.26zM161.11 337.68h2.26v99.58h-2.26zM163.59 349.65h2.26v71.55h-2.26zM166.08 348.63h2.26v81.33h-2.26zM168.56 371.99h2.26v20.01h-2.26zM171.05 415.04h2.26v20.76h-2.26zM173.53 361.33h2.26v48.19h-2.26zM176.02 425.26h2.26v25.14h-2.26zM178.50 334.76h2.26v115.64h-2.26zM180.99 351.99h2.26v88.19h-2.26zM183.47 416.50h2.26v4.38h-2.26zM185.96 381.77h2.26v56.95h-2.26zM188.44 407.74h2.26v30.98h-2.26zM190.93 365.71h2.26v56.95h-2.26zM193.41 347.90h2.26v99.58h-2.26zM195.90 384.69h2.26v51.11h-2.26zM198.38 334.03h2.26v71.11h-2.26zM200.87 349.65h2.26v106.58h-2.26zM205.84 388.76h2.26v47.04h-2.26zM208.32 361.04h2.26v51.40h-2.26zM210.81 340.60h2.26v117.09h-2.26zM213.29 369.80h2.26v30.96h-2.26zM215.78 344.25h2.26v47.75h-2.26zM218.26 361.77h2.26v91.55h-2.26zM220.75 344.25h2.26v81.33h-2.26zM223.23 357.82h2.26v77.97h-2.26zM225.72 387.30h2.26v35.36h-2.26zM228.20 343.81h2.26v91.99h-2.26zM230.69 347.90h2.26v58.70h-2.26zM233.17 359.87h2.26v61.33h-2.26zM235.66 359.87h2.26v32.13h-2.26zM238.14 339.87h2.26v69.65h-2.26zM240.63 338.85h2.26v75.05h-2.26zM243.11 344.98h2.26v71.84h-2.26zM245.60 341.33h2.26v106.15h-2.26zM248.08 341.33h2.26v100.31h-2.26zM250.57 384.39h2.26v47.02h-2.26zM253.05 366.15h2.26v55.05h-2.26zM255.53 330.09h2.26v119.34h-2.26zM258.02 372.42h2.26v38.55h-2.26zM260.50 386.57h2.26v62.36h-2.26zM262.99 338.41h2.26v97.39h-2.26zM265.47 351.99h2.26v69.21h-2.26zM267.96 348.63h2.26v43.37h-2.26zM270.44 366.15h2.26v110.53h-2.26zM272.93 334.03h2.26v139.72h-2.26zM275.41 369.80h2.26v36.80h-2.26zM277.90 382.93h2.26v58.70h-2.26zM280.38 436.93h2.26v4.38h-2.26zM282.87 380.01h2.26v29.50h-2.26zM285.35 353.00h2.26v4.40h-2.26zM287.84 384.39h2.26v71.84h-2.26zM290.32 340.89h2.26v106.58h-2.26zM292.81 334.76h2.26v118.55h-2.26zM295.29 335.05h2.26v99.28h-2.26zM297.78 341.33h2.26v109.07h-2.26zM300.26 346.15h2.26v94.03h-2.26zM302.75 336.22h2.26v114.18h-2.26zM305.23 343.81h2.26v91.99h-2.26zM307.72 351.99h2.26v104.25h-2.26zM310.20 354.47h2.26v63.81h-2.26zM312.69 360.31h2.26v76.95h-2.26zM315.17 384.38h2.26v41.20h-2.26zM317.66 384.39h2.26v44.10h-2.26zM320.14 377.82h2.26v56.51h-2.26zM322.63 359.87h2.26v65.71h-2.26zM325.11 362.79h2.26v68.63h-2.26zM327.60 355.93h2.26v116.36h-2.26zM330.08 444.23h2.26v17.84h-2.26zM332.57 369.80h2.26v101.04h-2.26zM335.05 346.29h2.26v93.88h-2.26zM337.54 333.01h2.26v58.99h-2.26zM340.02 331.84h2.26v122.93h-2.26zM342.51 347.17h2.26v37.53h-2.26zM344.99 336.20h2.26v8.00h-2.26zM347.48 377.82h2.26v53.59h-2.26zM352.45 344.25h2.26v62.35h-2.26zM354.93 351.99h2.26v88.19h-2.26zM357.42 344.25h2.26v100.31h-2.26zM359.90 373.45h2.26v76.95h-2.26zM362.39 347.20h2.26v7.30h-2.26zM364.87 352.57h2.26v37.97h-2.26zM367.36 344.25h2.26v103.23h-2.26zM369.84 347.61h2.26v57.53h-2.26zM372.33 406.28h2.26v29.52h-2.26zM374.81 362.20h2.26v37.09h-2.26zM377.30 351.99h2.26v79.43h-2.26zM379.78 413.58h2.26v33.90h-2.26zM382.27 340.89h2.26v121.18h-2.26zM384.75 347.90h2.26v90.82h-2.26zM387.24 382.20h2.26v74.03h-2.26zM389.72 428.18h2.26v25.14h-2.26zM392.21 343.52h2.26v73.30h-2.26zM394.69 345.71h2.26v79.87h-2.26zM397.18 343.81h2.26v64.25h-2.26zM399.66 346.06h2.26v85.84h-2.26zM402.15 362.13h2.26v91.46h-2.26zM404.63 344.92h2.26v65.25h-2.26zM407.12 332.12h2.26v128.08h-2.26zM409.60 440.95h2.26v22.92h-2.26zM412.09 440.24h2.26v22.17h-2.26zM414.57 349.02h2.26v95.24h-2.26zM417.06 421.36h2.26v37.40h-2.26zM422.03 346.15h2.26v132.94h-2.26zM424.51 351.04h2.26v44.60h-2.26zM427.00 364.98h2.26v28.48h-2.26zM431.97 350.72h2.26v41.28h-2.26zM434.45 346.06h2.26v69.03h-2.26zM436.94 343.97h2.26v95.65h-2.26zM439.42 416.08h2.26v23.54h-2.26zM441.91 369.83h2.26v45.26h-2.26zM444.39 331.77h2.26v81.88h-2.26zM446.88 338.76h2.26v86.43h-2.26zM449.36 367.61h2.26v90.77h-2.26zM451.85 379.81h2.26v51.15h-2.26zM454.33 352.07h2.26v87.55h-2.26zM456.82 339.87h2.26v138.71h-2.26zM459.30 468.02h2.26v4.33h-2.26zM461.79 356.84h2.26v35.16h-2.26zM464.27 361.73h2.26v30.27h-2.26zM466.76 346.19h2.26v60.24h-2.26zM469.24 350.63h2.26v83.22h-2.26zM471.73 357.95h2.26v120.63h-2.26z"/>
<path fill="#D39400" d="M36.86 460.61h2.26v2.66h-2.26zM39.34 392.00h2.26v6.12h-2.26zM41.83 389.08h2.26v3.10h-2.26zM44.31 450.39h2.26v4.25h-2.26zM46.80 422.66h2.26v2.45h-2.26zM51.77 427.04h2.26v1.96h-2.26zM54.25 427.04h2.26v4.15h-2.26zM56.74 427.04h2.26v2.82h-2.26zM59.22 438.72h2.26v4.76h-2.26zM64.19 392.00h2.26v3.77h-2.26zM74.13 427.04h2.26v2.93h-2.26zM76.62 387.62h2.26v5.10h-2.26zM79.10 424.12h2.26v7.50h-2.26zM81.59 392.00h2.26v3.29h-2.26zM84.07 443.09h2.26v4.37h-2.26zM86.56 424.12h2.26v2.95h-2.26zM89.04 418.28h2.26v0.53h-2.26zM91.53 450.39h2.26v3.76h-2.26zM94.01 450.39h2.26v5.47h-2.26zM98.98 406.60h2.26v2.16h-2.26zM103.95 441.64h2.26v7.90h-2.26zM106.44 435.80h2.26v2.24h-2.26zM111.41 444.55h2.26v3.22h-2.26zM113.89 453.31h2.26v2.90h-2.26zM116.38 400.76h2.26v2.75h-2.26zM118.86 419.74h2.26v4.67h-2.26zM121.35 400.76h2.26v15.20h-2.26zM126.32 438.72h2.26v9.66h-2.26zM128.80 460.61h2.26v3.85h-2.26zM131.29 392.00h2.26v19.08h-2.26zM133.77 435.80h2.26v7.57h-2.26zM136.26 427.04h2.26v3.48h-2.26zM138.74 457.69h2.26v6.96h-2.26zM141.23 456.23h2.26v1.58h-2.26zM143.71 392.00h2.26v13.21h-2.26zM146.20 421.20h2.26v3.56h-2.26zM148.68 418.28h2.26v1.08h-2.26zM151.17 392.00h2.26v12.43h-2.26zM156.14 384.70h2.26v10.03h-2.26zM161.11 437.26h2.26v5.01h-2.26zM163.59 421.20h2.26v2.42h-2.26zM168.56 392.00h2.26v6.22h-2.26zM171.05 435.80h2.26v3.70h-2.26zM173.53 409.52h2.26v10.74h-2.26zM176.02 450.39h2.26v5.71h-2.26zM180.99 440.18h2.26v7.17h-2.26zM183.47 420.88h2.26v4.39h-2.26zM185.96 438.72h2.26v12.85h-2.26zM190.93 422.66h2.26v14.50h-2.26zM195.90 435.80h2.26v6.73h-2.26zM198.38 405.14h2.26v6.19h-2.26zM200.87 456.23h2.26v7.52h-2.26zM203.35 388.76h2.26v7.92h-2.26zM205.84 435.80h2.26v8.30h-2.26zM208.32 412.44h2.26v13.77h-2.26zM210.81 457.69h2.26v3.18h-2.26zM218.26 453.31h2.26v3.91h-2.26zM220.75 425.58h2.26v10.94h-2.26zM223.23 435.80h2.26v7.55h-2.26zM225.72 422.66h2.26v11.87h-2.26zM228.20 435.80h2.26v3.64h-2.26zM233.17 421.20h2.26v2.71h-2.26zM235.66 392.00h2.26v15.73h-2.26zM238.14 409.52h2.26v6.36h-2.26zM243.11 416.82h2.26v3.41h-2.26zM245.60 447.47h2.26v1.43h-2.26zM248.08 441.64h2.26v1.97h-2.26zM250.57 431.42h2.26v1.62h-2.26zM253.05 421.20h2.26v7.53h-2.26zM255.53 449.42h2.26v0.34h-2.26zM258.02 410.98h2.26v24.91h-2.26zM262.99 435.80h2.26v6.95h-2.26zM267.96 392.00h2.26v9.42h-2.26zM270.44 476.67h2.26v3.76h-2.26zM272.93 473.75h2.26v1.00h-2.26zM275.41 406.60h2.26v5.22h-2.26zM280.38 441.31h2.26v5.88h-2.26zM282.87 409.52h2.26v1.56h-2.26zM287.84 456.23h2.26v1.47h-2.26zM290.32 447.47h2.26v1.50h-2.26zM292.81 453.31h2.26v3.32h-2.26zM295.29 434.34h2.26v6.63h-2.26zM297.78 450.39h2.26v6.59h-2.26zM300.26 440.18h2.26v2.00h-2.26zM305.23 435.80h2.26v9.86h-2.26zM307.72 456.23h2.26v4.74h-2.26zM310.20 418.28h2.26v5.12h-2.26zM312.69 437.26h2.26v0.69h-2.26zM320.14 434.34h2.26v6.27h-2.26zM337.54 392.00h2.26v9.46h-2.26zM340.02 454.77h2.26v0.73h-2.26zM347.48 431.42h2.26v5.37h-2.26zM349.96 392.00h2.26v5.14h-2.26zM357.42 444.55h2.26v9.44h-2.26zM359.90 450.39h2.26v4.31h-2.26zM364.87 390.54h2.26v4.69h-2.26zM367.36 447.47h2.26v2.07h-2.26zM369.84 405.14h2.26v6.07h-2.26zM372.33 435.80h2.26v10.53h-2.26zM374.81 399.30h2.26v13.16h-2.26zM377.30 431.42h2.26v9.04h-2.26zM382.27 462.07h2.26v3.78h-2.26zM384.75 438.72h2.26v10.94h-2.26zM387.24 456.23h2.26v4.38h-2.26zM389.72 453.31h2.26v4.32h-2.26zM394.69 425.58h2.26v5.70h-2.26zM397.18 408.06h2.26v1.69h-2.26zM399.66 431.90h2.26v4.02h-2.26zM402.15 453.59h2.26v5.11h-2.26zM404.63 410.17h2.26v2.34h-2.26zM407.12 460.20h2.26v2.09h-2.26zM409.60 463.87h2.26v3.71h-2.26zM412.09 462.41h2.26v5.08h-2.26zM414.57 444.25h2.26v0.91h-2.26zM417.06 458.77h2.26v4.77h-2.26zM419.54 421.36h2.26v7.58h-2.26zM422.03 479.09h2.26v2.59h-2.26zM424.51 395.63h2.26v11.43h-2.26zM429.48 382.12h2.26v9.97h-2.26zM431.97 392.00h2.26v4.40h-2.26zM434.45 415.09h2.26v10.96h-2.26zM436.94 439.62h2.26v4.17h-2.26zM439.42 439.62h2.26v2.87h-2.26zM446.88 425.19h2.26v9.49h-2.26zM456.82 478.58h2.26v4.02h-2.26zM461.79 392.00h2.26v12.18h-2.26zM466.76 406.43h2.26v3.53h-2.26zM471.73 478.58h2.26v7.24h-2.26z"/>
<path fill="#AAA800" d="M36.86 463.27h2.26v3.27h-2.26zM39.34 398.12h2.26v12.80h-2.26zM41.83 392.19h2.26v16.62h-2.26zM44.31 454.65h2.26v3.68h-2.26zM46.80 425.11h2.26v5.35h-2.26zM49.28 402.22h2.26v3.68h-2.26zM51.77 428.99h2.26v3.26h-2.26zM54.25 431.18h2.26v8.40h-2.26zM56.74 429.85h2.26v2.56h-2.26zM61.71 440.18h2.26v11.70h-2.26zM64.19 395.77h2.26v8.18h-2.26zM66.68 410.98h2.26v6.52h-2.26zM69.16 450.39h2.26v6.10h-2.26zM71.65 344.20h2.26v18.30h-2.26zM74.13 429.97h2.26v12.06h-2.26zM76.62 392.72h2.26v3.16h-2.26zM81.59 395.29h2.26v4.81h-2.26zM84.07 447.47h2.26v10.05h-2.26zM91.53 454.16h2.26v12.09h-2.26zM94.01 455.86h2.26v3.86h-2.26zM96.50 355.20h2.26v10.20h-2.26zM98.98 408.76h2.26v3.07h-2.26zM101.47 428.50h2.26v27.10h-2.26zM111.41 447.77h2.26v20.03h-2.26zM113.89 456.21h2.26v16.21h-2.26zM118.86 424.41h2.26v9.94h-2.26zM126.32 448.37h2.26v8.64h-2.26zM128.80 464.46h2.26v21.21h-2.26zM131.29 411.08h2.26v33.72h-2.26zM133.77 443.37h2.26v19.97h-2.26zM136.26 430.52h2.26v24.40h-2.26zM138.74 464.65h2.26v23.22h-2.26zM141.23 457.81h2.26v13.80h-2.26zM143.71 405.21h2.26v38.56h-2.26zM146.20 424.76h2.26v5.59h-2.26zM148.68 419.35h2.26v16.97h-2.26zM151.17 404.43h2.26v13.70h-2.26zM153.65 412.44h2.26v14.22h-2.26zM156.14 394.73h2.26v18.23h-2.26zM158.62 419.74h2.26v31.37h-2.26zM161.11 442.27h2.26v12.81h-2.26zM163.59 423.61h2.26v28.30h-2.26zM166.08 429.96h2.26v32.16h-2.26zM168.56 398.22h2.26v15.19h-2.26zM171.05 439.50h2.26v5.38h-2.26zM173.53 420.26h2.26v11.55h-2.26zM178.50 450.39h2.26v21.67h-2.26zM180.99 447.34h2.26v17.32h-2.26zM183.47 425.27h2.26v8.27h-2.26zM190.93 437.16h2.26v25.76h-2.26zM193.41 447.47h2.26v17.64h-2.26zM198.38 411.32h2.26v4.82h-2.26zM200.87 463.75h2.26v3.90h-2.26zM203.35 396.68h2.26v19.28h-2.26zM205.84 444.10h2.26v22.58h-2.26zM210.81 460.87h2.26v4.71h-2.26zM213.29 400.76h2.26v9.80h-2.26zM218.26 457.23h2.26v12.26h-2.26zM220.75 436.52h2.26v28.32h-2.26zM223.23 443.35h2.26v16.76h-2.26zM228.20 439.43h2.26v19.33h-2.26zM233.17 423.91h2.26v12.86h-2.26zM238.14 415.88h2.26v21.99h-2.26zM240.63 413.90h2.26v15.95h-2.26zM243.11 420.22h2.26v21.93h-2.26zM248.08 443.60h2.26v26.07h-2.26zM250.57 433.04h2.26v8.69h-2.26zM255.53 449.77h2.26v3.35h-2.26zM262.99 442.75h2.26v51.26h-2.26zM265.47 421.20h2.26v21.02h-2.26zM267.96 401.42h2.26v20.85h-2.26zM270.44 480.43h2.26v4.33h-2.26zM272.93 474.75h2.26v5.98h-2.26zM275.41 411.82h2.26v6.82h-2.26zM280.38 447.19h2.26v8.58h-2.26zM282.87 411.08h2.26v30.35h-2.26zM287.84 457.70h2.26v18.81h-2.26zM290.32 448.97h2.26v12.85h-2.26zM292.81 456.63h2.26v12.65h-2.26zM297.78 456.99h2.26v24.27h-2.26zM300.26 442.17h2.26v12.51h-2.26zM302.75 450.39h2.26v22.28h-2.26zM307.72 460.97h2.26v11.08h-2.26zM310.20 423.40h2.26v16.42h-2.26zM312.69 437.95h2.26v2.65h-2.26zM315.17 425.58h2.26v8.27h-2.26zM317.66 428.50h2.26v14.99h-2.26zM320.14 440.61h2.26v3.27h-2.26zM322.63 425.58h2.26v42.94h-2.26zM325.11 431.42h2.26v18.03h-2.26zM327.60 472.29h2.26v14.91h-2.26zM330.08 462.07h2.26v20.13h-2.26zM332.57 470.83h2.26v4.36h-2.26zM335.05 440.18h2.26v18.44h-2.26zM340.02 455.50h2.26v2.64h-2.26zM342.51 384.70h2.26v32.53h-2.26zM344.99 344.20h2.26v4.40h-2.26zM347.48 436.78h2.26v16.36h-2.26zM349.96 397.14h2.26v28.01h-2.26zM352.45 406.60h2.26v18.81h-2.26zM354.93 440.18h2.26v3.93h-2.26zM367.36 449.55h2.26v20.62h-2.26zM369.84 411.21h2.26v24.35h-2.26zM374.81 412.46h2.26v5.81h-2.26zM379.78 447.47h2.26v22.45h-2.26zM382.27 465.85h2.26v9.48h-2.26zM392.21 416.82h2.26v2.72h-2.26zM394.69 431.27h2.26v16.01h-2.26zM397.18 409.75h2.26v8.08h-2.26zM399.66 435.92h2.26v15.26h-2.26zM402.15 458.70h2.26v3.62h-2.26zM404.63 412.51h2.26v13.44h-2.26zM407.12 462.29h2.26v8.65h-2.26zM409.60 467.58h2.26v11.96h-2.26zM417.06 463.53h2.26v5.99h-2.26zM422.03 481.67h2.26v9.53h-2.26zM427.00 393.46h2.26v17.56h-2.26zM429.48 392.09h2.26v30.21h-2.26zM431.97 396.40h2.26v29.19h-2.26zM434.45 426.05h2.26v6.81h-2.26zM436.94 443.79h2.26v5.79h-2.26zM439.42 442.49h2.26v23.53h-2.26zM444.39 413.65h2.26v8.07h-2.26zM449.36 458.38h2.26v20.55h-2.26zM451.85 430.96h2.26v30.27h-2.26zM454.33 439.62h2.26v21.43h-2.26zM464.27 392.00h2.26v28.38h-2.26zM466.76 409.96h2.26v13.80h-2.26zM469.24 433.85h2.26v5.98h-2.26z"/>
<path fill="#00C468" d="M36.86 466.54h2.26v13.06h-2.26zM39.34 475.87h2.26v6.99h-2.26zM41.83 441.80h2.26v22.11h-2.26zM44.31 484.45h2.26v2.21h-2.26zM49.28 440.89h2.26v4.57h-2.26zM54.25 457.49h2.26v9.54h-2.26zM61.71 451.88h2.26v7.77h-2.26zM64.19 458.02h2.26v11.28h-2.26zM69.16 457.78h2.26v13.47h-2.26zM74.13 473.30h2.26v6.89h-2.26zM81.59 402.75h2.26v3.49h-2.26zM84.07 469.27h2.26v19.08h-2.26zM86.56 444.01h2.26v17.26h-2.26zM89.04 454.45h2.26v7.12h-2.26zM91.53 492.30h2.26v5.81h-2.26zM94.01 483.77h2.26v5.41h-2.26zM98.98 427.64h2.26v9.22h-2.26zM101.47 485.24h2.26v1.66h-2.26zM103.95 467.36h2.26v12.49h-2.26zM108.92 456.05h2.26v5.56h-2.26zM113.89 486.68h2.26v1.38h-2.26zM116.38 435.56h2.26v17.35h-2.26zM118.86 473.49h2.26v12.27h-2.26zM123.83 514.33h2.26v9.60h-2.26zM126.32 487.20h2.26v15.50h-2.26zM128.80 506.88h2.26v6.57h-2.26zM131.29 444.80h2.26v14.23h-2.26zM133.77 463.34h2.26v6.45h-2.26zM136.26 462.06h2.26v13.95h-2.26zM138.74 494.99h2.26v10.09h-2.26zM141.23 493.20h2.26v10.50h-2.26zM143.71 443.76h2.26v16.62h-2.26zM146.20 489.62h2.26v11.57h-2.26zM148.68 448.23h2.26v10.01h-2.26zM151.17 446.83h2.26v18.02h-2.26zM153.65 439.75h2.26v13.52h-2.26zM156.14 423.63h2.26v27.92h-2.26zM158.62 491.64h2.26v4.61h-2.26zM161.11 460.03h2.26v2.09h-2.26zM163.59 485.05h2.26v14.85h-2.26zM168.56 428.54h2.26v22.70h-2.26zM171.05 465.89h2.26v8.72h-2.26zM178.50 498.50h2.26v2.80h-2.26zM183.47 446.71h2.26v14.77h-2.26zM185.96 477.22h2.26v5.39h-2.26zM188.44 471.37h2.26v19.61h-2.26zM190.93 481.04h2.26v15.38h-2.26zM195.90 487.26h2.26v20.86h-2.26zM203.35 429.53h2.26v15.31h-2.26zM205.84 493.84h2.26v3.38h-2.26zM208.32 426.21h2.26v20.47h-2.26zM210.81 494.62h2.26v2.87h-2.26zM213.29 410.56h2.26v26.68h-2.26zM215.78 425.07h2.26v26.49h-2.26zM223.23 486.71h2.26v11.17h-2.26zM225.72 442.64h2.26v4.50h-2.26zM233.17 454.88h2.26v2.56h-2.26zM235.66 407.73h2.26v13.35h-2.26zM238.14 457.61h2.26v8.35h-2.26zM240.63 470.06h2.26v14.69h-2.26zM243.11 467.76h2.26v4.69h-2.26zM245.60 454.24h2.26v4.54h-2.26zM248.08 496.39h2.26v6.38h-2.26zM250.57 455.96h2.26v1.36h-2.26zM253.05 434.09h2.26v6.02h-2.26zM258.02 452.31h2.26v10.01h-2.26zM260.50 468.16h2.26v11.59h-2.26zM265.47 453.83h2.26v3.63h-2.26zM270.44 487.48h2.26v2.82h-2.26zM275.41 476.36h2.26v3.50h-2.26zM277.90 457.01h2.26v10.20h-2.26zM280.38 462.27h2.26v6.74h-2.26zM282.87 457.57h2.26v6.45h-2.26zM287.84 495.91h2.26v1.65h-2.26zM292.81 480.07h2.26v5.05h-2.26zM295.29 484.51h2.26v14.72h-2.26zM300.26 460.89h2.26v5.61h-2.26zM302.75 492.95h2.26v3.37h-2.26zM305.23 462.67h2.26v13.56h-2.26zM307.72 482.46h2.26v7.60h-2.26zM317.66 465.28h2.26v8.48h-2.26zM320.14 468.24h2.26v4.10h-2.26zM327.60 494.20h2.26v3.84h-2.26zM332.57 475.19h2.26v4.72h-2.26zM335.05 484.11h2.26v7.96h-2.26zM337.54 429.14h2.26v22.61h-2.26zM340.02 458.48h2.26v0.57h-2.26zM347.48 482.78h2.26v4.13h-2.26zM352.45 445.73h2.26v9.94h-2.26zM354.93 457.29h2.26v6.63h-2.26zM357.42 482.23h2.26v10.51h-2.26zM359.90 465.51h2.26v16.05h-2.26zM364.87 462.13h2.26v7.45h-2.26zM367.36 502.25h2.26v17.01h-2.26zM372.33 450.49h2.26v20.56h-2.26zM377.30 456.40h2.26v9.37h-2.26zM379.78 481.03h2.26v11.07h-2.26zM382.27 475.33h2.26v8.42h-2.26zM384.75 471.24h2.26v4.60h-2.26zM387.24 489.54h2.26v8.10h-2.26zM389.72 483.04h2.26v4.97h-2.26zM392.21 436.67h2.26v6.01h-2.26zM397.18 437.51h2.26v4.46h-2.26zM399.66 461.14h2.26v7.45h-2.26zM402.15 485.86h2.26v7.84h-2.26zM404.63 440.59h2.26v9.09h-2.26zM407.12 470.94h2.26v3.62h-2.26zM409.60 491.82h2.26v4.92h-2.26zM412.09 493.74h2.26v4.02h-2.26zM414.57 476.01h2.26v9.24h-2.26zM417.06 493.44h2.26v18.13h-2.26zM419.54 468.34h2.26v12.46h-2.26zM422.03 494.98h2.26v2.22h-2.26zM431.97 454.87h2.26v18.15h-2.26zM434.45 468.84h2.26v7.20h-2.26zM436.94 460.35h2.26v6.48h-2.26zM439.42 486.28h2.26v7.44h-2.26zM441.91 430.08h2.26v13.27h-2.26zM444.39 430.33h2.26v9.06h-2.26zM446.88 434.68h2.26v11.71h-2.26zM449.36 494.73h2.26v11.70h-2.26zM451.85 475.03h2.26v4.19h-2.26zM454.33 482.13h2.26v10.78h-2.26zM456.82 489.89h2.26v2.25h-2.26zM466.76 440.55h2.26v2.87h-2.26zM469.24 484.95h2.26v10.34h-2.26z"/>
<path fill="#00C69E" d="M36.86 479.60h2.26v8.72h-2.26zM41.83 463.91h2.26v6.25h-2.26zM44.31 486.66h2.26v7.90h-2.26zM46.80 459.04h2.26v19.01h-2.26zM49.28 445.46h2.26v12.70h-2.26zM51.77 447.71h2.26v13.52h-2.26zM59.22 468.18h2.26v1.80h-2.26zM61.71 459.65h2.26v7.57h-2.26zM64.19 469.29h2.26v13.17h-2.26zM66.68 435.02h2.26v30.84h-2.26zM69.16 471.25h2.26v10.32h-2.26zM74.13 480.18h2.26v9.66h-2.26zM79.10 437.98h2.26v12.38h-2.26zM81.59 406.25h2.26v11.08h-2.26zM86.56 461.27h2.26v9.79h-2.26zM89.04 461.56h2.26v4.39h-2.26zM94.01 489.18h2.26v7.71h-2.26zM98.98 436.85h2.26v3.10h-2.26zM101.47 486.91h2.26v6.00h-2.26zM103.95 479.85h2.26v11.82h-2.26zM106.44 496.92h2.26v6.14h-2.26zM108.92 461.61h2.26v7.09h-2.26zM111.41 509.35h2.26v2.41h-2.26zM113.89 488.07h2.26v1.42h-2.26zM116.38 452.91h2.26v17.23h-2.26zM118.86 485.76h2.26v3.76h-2.26zM121.35 448.80h2.26v11.81h-2.26zM126.32 502.69h2.26v15.35h-2.26zM128.80 513.45h2.26v2.82h-2.26zM131.29 459.02h2.26v24.98h-2.26zM133.77 469.78h2.26v6.36h-2.26zM136.26 476.01h2.26v3.19h-2.26zM141.23 503.70h2.26v6.26h-2.26zM143.71 460.38h2.26v14.78h-2.26zM146.20 501.19h2.26v3.32h-2.26zM148.68 458.24h2.26v2.20h-2.26zM153.65 453.27h2.26v12.68h-2.26zM156.14 451.55h2.26v22.68h-2.26zM158.62 496.25h2.26v14.36h-2.26zM161.11 462.12h2.26v7.99h-2.26zM163.59 499.89h2.26v7.99h-2.26zM166.08 476.93h2.26v17.66h-2.26zM168.56 451.24h2.26v20.60h-2.26zM171.05 474.61h2.26v9.11h-2.26zM173.53 455.19h2.26v17.66h-2.26zM176.02 493.97h2.26v13.45h-2.26zM178.50 501.30h2.26v8.93h-2.26zM180.99 496.91h2.26v16.95h-2.26zM183.47 461.48h2.26v17.99h-2.26zM185.96 482.61h2.26v11.03h-2.26zM188.44 490.98h2.26v14.25h-2.26zM190.93 496.42h2.26v23.45h-2.26zM193.41 492.49h2.26v9.85h-2.26zM195.90 508.12h2.26v3.10h-2.26zM198.38 474.87h2.26v5.38h-2.26zM200.87 491.43h2.26v2.56h-2.26zM203.35 444.85h2.26v10.10h-2.26zM205.84 497.22h2.26v11.29h-2.26zM208.32 446.68h2.26v13.01h-2.26zM210.81 497.48h2.26v6.44h-2.26zM213.29 437.24h2.26v17.20h-2.26zM215.78 451.56h2.26v8.50h-2.26zM218.26 474.84h2.26v1.49h-2.26zM220.75 503.82h2.26v9.81h-2.26zM223.23 497.88h2.26v10.26h-2.26zM225.72 447.15h2.26v13.61h-2.26zM228.20 474.90h2.26v6.55h-2.26zM230.69 429.79h2.26v3.09h-2.26zM233.17 457.44h2.26v2.35h-2.26zM238.14 465.96h2.26v3.72h-2.26zM240.63 484.74h2.26v8.67h-2.26zM243.11 472.45h2.26v4.12h-2.26zM245.60 458.77h2.26v2.70h-2.26zM248.08 502.76h2.26v5.58h-2.26zM250.57 457.32h2.26v4.76h-2.26zM253.05 440.11h2.26v8.93h-2.26zM258.02 462.32h2.26v27.49h-2.26zM260.50 479.75h2.26v17.31h-2.26zM262.99 517.43h2.26v6.69h-2.26zM265.47 457.47h2.26v6.62h-2.26zM270.44 490.30h2.26v5.61h-2.26zM272.93 494.86h2.26v5.04h-2.26zM277.90 467.21h2.26v10.87h-2.26zM280.38 469.01h2.26v10.97h-2.26zM282.87 464.02h2.26v14.15h-2.26zM290.32 476.99h2.26v6.05h-2.26zM292.81 485.12h2.26v6.16h-2.26zM295.29 499.23h2.26v9.74h-2.26zM297.78 496.71h2.26v11.06h-2.26zM300.26 466.50h2.26v6.56h-2.26zM305.23 476.23h2.26v2.46h-2.26zM307.72 490.06h2.26v4.34h-2.26zM310.20 455.98h2.26v9.44h-2.26zM312.69 446.69h2.26v1.83h-2.26zM315.17 494.66h2.26v7.18h-2.26zM317.66 473.77h2.26v2.53h-2.26zM320.14 472.33h2.26v1.72h-2.26zM325.11 460.72h2.26v6.72h-2.26zM327.60 498.04h2.26v4.85h-2.26zM330.08 513.06h2.26v10.86h-2.26zM332.57 479.91h2.26v4.53h-2.26zM337.54 451.75h2.26v16.69h-2.26zM340.02 459.06h2.26v0.86h-2.26zM342.51 438.10h2.26v5.98h-2.26zM349.96 452.41h2.26v13.69h-2.26zM352.45 455.67h2.26v2.34h-2.26zM354.93 463.92h2.26v1.72h-2.26zM357.42 492.74h2.26v10.89h-2.26zM364.87 469.58h2.26v21.77h-2.26zM367.36 519.26h2.26v15.23h-2.26zM369.84 470.02h2.26v16.92h-2.26zM372.33 471.05h2.26v8.01h-2.26zM374.81 475.32h2.26v12.61h-2.26zM379.78 492.10h2.26v11.07h-2.26zM384.75 475.83h2.26v14.74h-2.26zM387.24 497.63h2.26v8.82h-2.26zM389.72 488.01h2.26v8.09h-2.26zM394.69 471.03h2.26v6.12h-2.26zM397.18 441.96h2.26v6.00h-2.26zM402.15 493.71h2.26v5.99h-2.26zM404.63 449.68h2.26v12.39h-2.26zM412.09 497.76h2.26v9.94h-2.26zM414.57 485.24h2.26v2.93h-2.26zM422.03 497.20h2.26v4.07h-2.26zM424.51 430.46h2.26v20.26h-2.26zM427.00 426.55h2.26v4.53h-2.26zM429.48 464.58h2.26v11.51h-2.26zM431.97 473.01h2.26v12.86h-2.26zM434.45 476.05h2.26v4.29h-2.26zM436.94 466.82h2.26v5.13h-2.26zM439.42 493.72h2.26v2.85h-2.26zM441.91 443.34h2.26v6.38h-2.26zM446.88 446.39h2.26v13.36h-2.26zM451.85 479.22h2.26v12.26h-2.26zM456.82 492.14h2.26v3.80h-2.26zM459.30 501.37h2.26v4.25h-2.26zM464.27 486.37h2.26v5.54h-2.26zM466.76 443.42h2.26v6.12h-2.26zM469.24 495.29h2.26v6.20h-2.26zM471.73 485.83h2.26v6.00h-2.26z"/>
<path fill="#00C2C8" d="M36.86 488.32h2.26v4.70h-2.26zM41.83 470.15h2.26v20.00h-2.26zM44.31 494.56h2.26v5.70h-2.26zM46.80 478.05h2.26v14.91h-2.26zM51.77 461.23h2.26v11.86h-2.26zM56.74 455.07h2.26v9.88h-2.26zM59.22 469.98h2.26v20.47h-2.26zM61.71 467.22h2.26v25.11h-2.26zM64.19 482.47h2.26v16.27h-2.26zM66.68 465.86h2.26v32.16h-2.26zM69.16 481.57h2.26v4.43h-2.26zM71.65 368.30h2.26v8.80h-2.26zM74.13 489.84h2.26v4.23h-2.26zM76.62 455.48h2.26v19.43h-2.26zM79.10 450.36h2.26v18.72h-2.26zM81.59 417.32h2.26v14.15h-2.26zM84.07 488.35h2.26v14.69h-2.26zM86.56 471.06h2.26v24.05h-2.26zM91.53 498.12h2.26v13.82h-2.26zM94.01 496.88h2.26v24.15h-2.26zM96.50 377.10h2.26v19.90h-2.26zM98.98 439.96h2.26v4.71h-2.26zM101.47 492.91h2.26v15.71h-2.26zM103.95 491.67h2.26v4.38h-2.26zM108.92 468.70h2.26v12.38h-2.26zM116.38 470.15h2.26v20.05h-2.26zM121.35 460.62h2.26v9.20h-2.26zM126.32 518.04h2.26v5.58h-2.26zM131.29 484.00h2.26v23.26h-2.26zM133.77 476.15h2.26v13.72h-2.26zM136.26 479.19h2.26v18.81h-2.26zM138.74 505.08h2.26v6.93h-2.26zM141.23 509.96h2.26v8.35h-2.26zM143.71 475.17h2.26v7.55h-2.26zM146.20 504.50h2.26v6.09h-2.26zM151.17 464.84h2.26v21.30h-2.26zM153.65 465.94h2.26v17.23h-2.26zM158.62 510.61h2.26v15.53h-2.26zM161.11 470.11h2.26v3.21h-2.26zM166.08 494.59h2.26v18.46h-2.26zM168.56 471.84h2.26v6.85h-2.26zM171.05 483.72h2.26v6.29h-2.26zM173.53 472.85h2.26v14.85h-2.26zM176.02 507.42h2.26v5.40h-2.26zM178.50 510.24h2.26v2.11h-2.26zM180.99 513.86h2.26v10.45h-2.26zM183.47 479.47h2.26v7.34h-2.26zM185.96 493.64h2.26v4.21h-2.26zM188.44 505.23h2.26v4.30h-2.26zM195.90 511.21h2.26v15.35h-2.26zM198.38 480.26h2.26v4.97h-2.26zM200.87 493.99h2.26v7.01h-2.26zM203.35 454.94h2.26v14.93h-2.26zM205.84 508.51h2.26v15.98h-2.26zM208.32 459.69h2.26v6.54h-2.26zM210.81 503.93h2.26v5.39h-2.26zM215.78 460.06h2.26v18.22h-2.26zM218.26 476.33h2.26v6.49h-2.26zM220.75 513.63h2.26v6.59h-2.26zM223.23 508.14h2.26v7.01h-2.26zM228.20 481.45h2.26v13.60h-2.26zM230.69 432.88h2.26v29.77h-2.26zM233.17 459.79h2.26v12.38h-2.26zM235.66 421.08h2.26v23.12h-2.26zM240.63 493.42h2.26v6.34h-2.26zM243.11 476.57h2.26v4.64h-2.26zM245.60 461.47h2.26v4.66h-2.26zM250.57 462.08h2.26v5.51h-2.26zM253.05 449.04h2.26v13.17h-2.26zM258.02 489.81h2.26v9.26h-2.26zM260.50 497.06h2.26v4.23h-2.26zM262.99 524.12h2.26v13.93h-2.26zM267.96 463.10h2.26v5.89h-2.26zM270.44 495.91h2.26v4.02h-2.26zM272.93 499.90h2.26v4.28h-2.26zM275.41 479.86h2.26v5.40h-2.26zM280.38 479.98h2.26v6.34h-2.26zM282.87 478.17h2.26v4.79h-2.26zM285.35 407.70h2.26v33.60h-2.26zM290.32 483.04h2.26v4.69h-2.26zM292.81 491.27h2.26v2.23h-2.26zM297.78 507.77h2.26v15.83h-2.26zM300.26 473.06h2.26v5.82h-2.26zM302.75 496.32h2.26v11.49h-2.26zM305.23 478.70h2.26v11.82h-2.26zM307.72 494.40h2.26v1.77h-2.26zM310.20 465.41h2.26v12.94h-2.26zM312.69 448.52h2.26v4.05h-2.26zM315.17 501.84h2.26v3.57h-2.26zM317.66 476.29h2.26v9.51h-2.26zM320.14 474.06h2.26v2.85h-2.26zM322.63 468.52h2.26v5.60h-2.26zM325.11 467.43h2.26v5.86h-2.26zM327.60 502.89h2.26v3.97h-2.26zM332.57 484.45h2.26v0.83h-2.26zM337.54 468.44h2.26v13.35h-2.26zM340.02 459.92h2.26v0.97h-2.26zM342.51 444.08h2.26v19.16h-2.26zM344.99 366.00h2.26v35.90h-2.26zM349.96 466.10h2.26v8.98h-2.26zM352.45 458.00h2.26v1.90h-2.26zM354.93 465.63h2.26v10.01h-2.26zM357.42 503.63h2.26v9.06h-2.26zM359.90 481.56h2.26v11.28h-2.26zM362.39 391.70h2.26v37.90h-2.26zM367.36 534.49h2.26v6.14h-2.26zM372.33 479.06h2.26v9.29h-2.26zM377.30 465.78h2.26v7.35h-2.26zM379.78 503.17h2.26v12.07h-2.26zM382.27 483.75h2.26v10.33h-2.26zM384.75 490.58h2.26v23.43h-2.26zM387.24 506.46h2.26v6.27h-2.26zM389.72 496.10h2.26v11.79h-2.26zM392.21 442.67h2.26v8.28h-2.26zM394.69 477.15h2.26v6.41h-2.26zM397.18 447.96h2.26v6.35h-2.26zM399.66 468.59h2.26v6.49h-2.26zM402.15 499.69h2.26v9.70h-2.26zM404.63 462.07h2.26v12.93h-2.26zM407.12 474.56h2.26v3.55h-2.26zM412.09 507.70h2.26v14.43h-2.26zM414.57 488.18h2.26v10.18h-2.26zM419.54 480.80h2.26v15.31h-2.26zM424.51 450.71h2.26v28.56h-2.26zM427.00 431.08h2.26v27.96h-2.26zM429.48 476.09h2.26v7.21h-2.26zM431.97 485.87h2.26v2.44h-2.26zM434.45 480.34h2.26v19.44h-2.26zM436.94 471.96h2.26v4.72h-2.26zM439.42 496.56h2.26v16.13h-2.26zM441.91 449.72h2.26v7.30h-2.26zM444.39 439.39h2.26v2.69h-2.26zM446.88 459.75h2.26v22.66h-2.26zM449.36 506.43h2.26v10.25h-2.26zM454.33 492.91h2.26v12.38h-2.26zM456.82 495.95h2.26v8.18h-2.26zM459.30 505.61h2.26v31.95h-2.26zM461.79 426.40h2.26v26.19h-2.26zM464.27 491.92h2.26v4.51h-2.26zM466.76 449.54h2.26v7.92h-2.26zM469.24 501.49h2.26v13.75h-2.26zM471.73 491.83h2.26v46.22h-2.26z"/>
<path fill="#00B8EE" d="M36.86 493.02h2.26v12.49h-2.26zM39.34 482.86h2.26v6.82h-2.26zM41.83 490.16h2.26v4.12h-2.26zM44.31 500.27h2.26v3.62h-2.26zM46.80 492.96h2.26v3.82h-2.26zM49.28 458.17h2.26v13.45h-2.26zM51.77 473.09h2.26v3.79h-2.26zM59.22 490.45h2.26v11.13h-2.26zM61.71 492.33h2.26v30.32h-2.26zM64.19 498.73h2.26v12.64h-2.26zM66.68 498.03h2.26v15.81h-2.26zM69.16 486.00h2.26v19.97h-2.26zM74.13 494.07h2.26v8.54h-2.26zM79.10 469.08h2.26v7.48h-2.26zM81.59 431.47h2.26v8.27h-2.26zM86.56 495.11h2.26v19.48h-2.26zM89.04 465.95h2.26v13.26h-2.26zM91.53 511.93h2.26v10.95h-2.26zM94.01 521.04h2.26v17.34h-2.26zM98.98 444.66h2.26v8.12h-2.26zM101.47 508.62h2.26v11.04h-2.26zM103.95 496.05h2.26v2.80h-2.26zM106.44 503.05h2.26v8.61h-2.26zM108.92 481.08h2.26v2.43h-2.26zM111.41 511.76h2.26v2.12h-2.26zM113.89 489.49h2.26v2.89h-2.26zM116.38 490.20h2.26v4.28h-2.26zM118.86 489.52h2.26v2.14h-2.26zM121.35 469.82h2.26v14.21h-2.26zM123.83 523.93h2.26v5.04h-2.26zM126.32 523.62h2.26v5.80h-2.26zM128.80 516.28h2.26v6.64h-2.26zM133.77 489.87h2.26v9.90h-2.26zM136.26 498.01h2.26v3.98h-2.26zM138.74 512.01h2.26v8.87h-2.26zM143.71 482.72h2.26v7.05h-2.26zM148.68 460.43h2.26v6.02h-2.26zM153.65 483.18h2.26v11.70h-2.26zM158.62 526.14h2.26v6.57h-2.26zM161.11 473.32h2.26v1.07h-2.26zM163.59 507.88h2.26v5.26h-2.26zM166.08 513.05h2.26v15.82h-2.26zM171.05 490.01h2.26v6.16h-2.26zM176.02 512.83h2.26v10.15h-2.26zM178.50 512.35h2.26v7.82h-2.26zM180.99 524.31h2.26v7.41h-2.26zM183.47 486.81h2.26v10.60h-2.26zM185.96 497.85h2.26v10.57h-2.26zM188.44 509.53h2.26v9.30h-2.26zM190.93 519.86h2.26v19.54h-2.26zM193.41 502.34h2.26v12.35h-2.26zM195.90 526.56h2.26v2.83h-2.26zM198.38 485.22h2.26v9.37h-2.26zM200.87 501.00h2.26v10.68h-2.26zM203.35 469.87h2.26v5.57h-2.26zM205.84 524.50h2.26v3.02h-2.26zM208.32 466.23h2.26v14.18h-2.26zM210.81 509.32h2.26v5.75h-2.26zM213.29 454.43h2.26v28.66h-2.26zM215.78 478.28h2.26v19.19h-2.26zM225.72 460.75h2.26v7.40h-2.26zM228.20 495.05h2.26v1.54h-2.26zM230.69 462.65h2.26v7.39h-2.26zM238.14 469.68h2.26v3.80h-2.26zM240.63 499.75h2.26v10.63h-2.26zM243.11 481.22h2.26v9.18h-2.26zM245.60 466.13h2.26v3.64h-2.26zM248.08 508.35h2.26v8.41h-2.26zM250.57 467.59h2.26v7.20h-2.26zM253.05 462.21h2.26v7.13h-2.26zM260.50 501.29h2.26v3.50h-2.26zM265.47 464.09h2.26v6.72h-2.26zM267.96 468.99h2.26v11.80h-2.26zM272.93 504.17h2.26v4.60h-2.26zM275.41 485.26h2.26v16.29h-2.26zM277.90 478.08h2.26v6.87h-2.26zM280.38 486.31h2.26v4.39h-2.26zM282.87 482.96h2.26v7.42h-2.26zM290.32 487.73h2.26v2.71h-2.26zM292.81 493.50h2.26v7.84h-2.26zM295.29 508.97h2.26v5.71h-2.26zM297.78 523.60h2.26v8.63h-2.26zM300.26 478.87h2.26v6.85h-2.26zM302.75 507.81h2.26v6.55h-2.26zM307.72 496.16h2.26v5.52h-2.26zM310.20 478.35h2.26v7.63h-2.26zM312.69 452.56h2.26v3.70h-2.26zM315.17 505.42h2.26v5.44h-2.26zM317.66 485.81h2.26v16.45h-2.26zM320.14 476.91h2.26v2.11h-2.26zM322.63 474.12h2.26v19.52h-2.26zM325.11 473.29h2.26v7.92h-2.26zM327.60 506.86h2.26v2.85h-2.26zM330.08 523.92h2.26v10.30h-2.26zM335.05 492.08h2.26v2.15h-2.26zM337.54 481.79h2.26v8.78h-2.26zM340.02 460.89h2.26v0.49h-2.26zM347.48 486.91h2.26v3.68h-2.26zM349.96 475.08h2.26v7.47h-2.26zM354.93 475.65h2.26v5.18h-2.26zM357.42 512.69h2.26v4.21h-2.26zM359.90 492.84h2.26v16.04h-2.26zM364.87 491.35h2.26v12.16h-2.26zM369.84 486.94h2.26v3.60h-2.26zM372.33 488.35h2.26v4.33h-2.26zM374.81 487.93h2.26v6.43h-2.26zM377.30 473.13h2.26v24.20h-2.26zM382.27 494.09h2.26v4.86h-2.26zM384.75 514.01h2.26v8.81h-2.26zM387.24 512.73h2.26v4.54h-2.26zM389.72 507.89h2.26v10.10h-2.26zM392.21 450.95h2.26v6.52h-2.26zM394.69 483.56h2.26v10.08h-2.26zM397.18 454.31h2.26v2.66h-2.26zM399.66 475.08h2.26v5.88h-2.26zM402.15 509.40h2.26v2.08h-2.26zM404.63 475.00h2.26v8.91h-2.26zM409.60 496.74h2.26v7.71h-2.26zM414.57 498.36h2.26v8.66h-2.26zM417.06 511.57h2.26v3.52h-2.26zM419.54 496.11h2.26v12.29h-2.26zM422.03 501.27h2.26v4.06h-2.26zM424.51 479.27h2.26v2.84h-2.26zM427.00 459.03h2.26v16.53h-2.26zM431.97 488.32h2.26v2.88h-2.26zM434.45 499.78h2.26v16.09h-2.26zM436.94 476.68h2.26v1.28h-2.26zM439.42 512.69h2.26v8.60h-2.26zM446.88 482.42h2.26v6.43h-2.26zM449.36 516.67h2.26v9.18h-2.26zM451.85 491.48h2.26v2.58h-2.26zM454.33 505.29h2.26v3.22h-2.26zM456.82 504.12h2.26v7.99h-2.26zM459.30 537.56h2.26v12.99h-2.26zM461.79 452.58h2.26v15.60h-2.26zM464.27 496.43h2.26v17.85h-2.26zM466.76 457.46h2.26v1.19h-2.26zM469.24 515.24h2.26v7.25h-2.26z"/>
<path fill="#00A5FF" d="M36.86 505.51h2.26v3.21h-2.26zM41.83 494.27h2.26v19.88h-2.26zM44.31 503.89h2.26v2.75h-2.26zM46.80 496.78h2.26v16.09h-2.26zM49.28 471.62h2.26v12.87h-2.26zM51.77 476.88h2.26v9.33h-2.26zM56.74 464.95h2.26v9.21h-2.26zM61.71 522.65h2.26v27.40h-2.26zM66.68 513.84h2.26v12.17h-2.26zM74.13 502.60h2.26v3.19h-2.26zM76.62 474.90h2.26v11.07h-2.26zM79.10 476.56h2.26v14.44h-2.26zM81.59 439.73h2.26v7.18h-2.26zM84.07 503.04h2.26v5.67h-2.26zM86.56 514.59h2.26v17.77h-2.26zM89.04 479.21h2.26v4.16h-2.26zM91.53 522.89h2.26v12.37h-2.26zM98.98 452.78h2.26v6.59h-2.26zM101.47 519.66h2.26v13.02h-2.26zM108.92 483.51h2.26v5.31h-2.26zM111.41 513.88h2.26v6.42h-2.26zM113.89 492.38h2.26v7.55h-2.26zM116.38 494.47h2.26v11.79h-2.26zM118.86 491.66h2.26v6.88h-2.26zM123.83 528.97h2.26v17.99h-2.26zM128.80 522.92h2.26v8.59h-2.26zM133.77 499.77h2.26v9.69h-2.26zM138.74 520.88h2.26v14.13h-2.26zM141.23 518.31h2.26v2.42h-2.26zM143.71 489.77h2.26v14.54h-2.26zM148.68 466.46h2.26v5.93h-2.26zM151.17 486.14h2.26v3.15h-2.26zM158.62 532.71h2.26v8.26h-2.26zM161.11 474.39h2.26v3.16h-2.26zM163.59 513.14h2.26v2.93h-2.26zM168.56 478.69h2.26v6.74h-2.26zM171.05 496.17h2.26v8.81h-2.26zM173.53 487.70h2.26v20.48h-2.26zM176.02 522.97h2.26v7.41h-2.26zM178.50 520.17h2.26v3.08h-2.26zM183.47 497.41h2.26v19.11h-2.26zM185.96 508.42h2.26v5.50h-2.26zM188.44 518.83h2.26v15.39h-2.26zM198.38 494.60h2.26v7.18h-2.26zM200.87 511.68h2.26v4.16h-2.26zM203.35 475.45h2.26v10.18h-2.26zM205.84 527.52h2.26v13.98h-2.26zM208.32 480.41h2.26v20.01h-2.26zM210.81 515.06h2.26v1.48h-2.26zM213.29 483.10h2.26v31.74h-2.26zM215.78 497.47h2.26v22.50h-2.26zM220.75 520.22h2.26v20.14h-2.26zM223.23 515.14h2.26v23.93h-2.26zM225.72 468.15h2.26v7.02h-2.26zM228.20 496.59h2.26v9.00h-2.26zM230.69 470.05h2.26v7.45h-2.26zM233.17 472.16h2.26v3.84h-2.26zM235.66 444.19h2.26v8.13h-2.26zM238.14 473.48h2.26v7.27h-2.26zM243.11 490.39h2.26v3.57h-2.26zM245.60 469.77h2.26v4.24h-2.26zM248.08 516.76h2.26v10.32h-2.26zM250.57 474.80h2.26v7.08h-2.26zM253.05 469.34h2.26v9.33h-2.26zM255.53 455.02h2.26v1.40h-2.26zM258.02 499.07h2.26v10.50h-2.26zM265.47 470.81h2.26v6.69h-2.26zM267.96 480.80h2.26v14.11h-2.26zM270.44 499.93h2.26v6.60h-2.26zM272.93 508.78h2.26v3.99h-2.26zM275.41 501.54h2.26v6.81h-2.26zM280.38 490.70h2.26v11.93h-2.26zM282.87 490.38h2.26v10.32h-2.26zM285.35 441.30h2.26v21.70h-2.26zM287.84 497.56h2.26v10.13h-2.26zM290.32 490.43h2.26v5.96h-2.26zM302.75 514.37h2.26v2.53h-2.26zM305.23 490.51h2.26v10.22h-2.26zM310.20 485.98h2.26v4.64h-2.26zM312.69 456.26h2.26v2.85h-2.26zM317.66 502.26h2.26v2.88h-2.26zM320.14 479.02h2.26v8.05h-2.26zM325.11 481.22h2.26v3.11h-2.26zM327.60 509.70h2.26v8.76h-2.26zM330.08 534.23h2.26v2.34h-2.26zM332.57 485.28h2.26v4.30h-2.26zM335.05 494.23h2.26v13.32h-2.26zM337.54 490.56h2.26v12.31h-2.26zM340.02 461.38h2.26v1.40h-2.26zM342.51 463.24h2.26v8.34h-2.26zM347.48 490.59h2.26v7.83h-2.26zM349.96 482.55h2.26v11.77h-2.26zM352.45 459.90h2.26v2.31h-2.26zM354.93 480.83h2.26v7.73h-2.26zM359.90 508.89h2.26v9.86h-2.26zM369.84 490.55h2.26v14.50h-2.26zM372.33 492.68h2.26v7.78h-2.26zM374.81 494.36h2.26v18.14h-2.26zM379.78 515.24h2.26v3.97h-2.26zM382.27 498.95h2.26v9.06h-2.26zM387.24 517.27h2.26v11.44h-2.26zM389.72 517.98h2.26v10.73h-2.26zM394.69 493.65h2.26v8.08h-2.26zM399.66 480.96h2.26v7.41h-2.26zM402.15 511.48h2.26v2.46h-2.26zM404.63 483.91h2.26v7.66h-2.26zM407.12 478.12h2.26v3.17h-2.26zM409.60 504.44h2.26v9.05h-2.26zM412.09 522.13h2.26v12.43h-2.26zM414.57 507.02h2.26v4.33h-2.26zM417.06 515.09h2.26v4.10h-2.26zM422.03 505.34h2.26v4.95h-2.26zM424.51 482.12h2.26v17.30h-2.26zM427.00 475.57h2.26v7.06h-2.26zM431.97 491.19h2.26v3.92h-2.26zM436.94 477.96h2.26v6.07h-2.26zM439.42 521.30h2.26v9.88h-2.26zM441.91 457.02h2.26v29.85h-2.26zM444.39 442.08h2.26v10.96h-2.26zM446.88 488.85h2.26v11.60h-2.26zM451.85 494.06h2.26v5.53h-2.26zM454.33 508.51h2.26v6.82h-2.26zM456.82 512.11h2.26v2.86h-2.26zM461.79 468.19h2.26v4.68h-2.26zM464.27 514.27h2.26v13.87h-2.26zM466.76 458.66h2.26v7.00h-2.26zM469.24 522.48h2.26v4.43h-2.26z"/>
<path fill="#C878FF" d="M36.86 508.72h2.26v1.54h-2.26zM39.34 498.14h2.26v9.13h-2.26zM41.83 514.15h2.26v7.00h-2.26zM44.31 511.99h2.26v1.52h-2.26zM46.80 518.71h2.26v8.18h-2.26zM49.28 492.84h2.26v5.75h-2.26zM51.77 486.21h2.26v3.65h-2.26zM54.25 469.31h2.26v4.85h-2.26zM56.74 476.19h2.26v2.76h-2.26zM59.22 507.66h2.26v3.21h-2.26zM64.19 511.38h2.26v5.23h-2.26zM69.16 513.85h2.26v1.65h-2.26zM74.13 513.60h2.26v6.15h-2.26zM76.62 487.41h2.26v6.29h-2.26zM79.10 492.19h2.26v3.57h-2.26zM84.07 521.00h2.26v11.89h-2.26zM86.56 534.83h2.26v5.79h-2.26zM98.98 463.54h2.26v2.89h-2.26zM101.47 532.68h2.26v2.79h-2.26zM103.95 498.86h2.26v4.74h-2.26zM106.44 520.84h2.26v9.43h-2.26zM108.92 488.83h2.26v6.34h-2.26zM111.41 526.99h2.26v4.55h-2.26zM113.89 504.91h2.26v2.26h-2.26zM116.38 506.26h2.26v11.27h-2.26zM118.86 503.72h2.26v3.55h-2.26zM121.35 484.03h2.26v18.78h-2.26zM123.83 546.96h2.26v4.81h-2.26zM131.29 521.48h2.26v5.42h-2.26zM133.77 512.51h2.26v2.64h-2.26zM136.26 513.14h2.26v7.86h-2.26zM138.74 539.50h2.26v2.93h-2.26zM141.23 520.72h2.26v4.47h-2.26zM148.68 476.44h2.26v4.96h-2.26zM156.14 474.23h2.26v9.38h-2.26zM158.62 540.97h2.26v4.79h-2.26zM171.05 504.97h2.26v2.00h-2.26zM173.53 519.95h2.26v5.23h-2.26zM178.50 527.43h2.26v4.61h-2.26zM180.99 539.50h2.26v7.12h-2.26zM190.93 539.41h2.26v5.81h-2.26zM193.41 515.99h2.26v6.01h-2.26zM198.38 508.77h2.26v5.81h-2.26zM200.87 523.76h2.26v4.91h-2.26zM203.35 485.63h2.26v7.50h-2.26zM205.84 541.50h2.26v4.81h-2.26zM213.29 514.83h2.26v18.92h-2.26zM215.78 528.65h2.26v3.23h-2.26zM218.26 484.51h2.26v2.96h-2.26zM220.75 545.75h2.26v3.44h-2.26zM225.72 483.97h2.26v9.93h-2.26zM228.20 509.88h2.26v6.02h-2.26zM230.69 477.49h2.26v5.12h-2.26zM233.17 476.00h2.26v4.87h-2.26zM235.66 465.89h2.26v8.06h-2.26zM238.14 487.17h2.26v4.57h-2.26zM243.11 495.03h2.26v0.86h-2.26zM245.60 475.63h2.26v2.45h-2.26zM248.08 528.07h2.26v6.54h-2.26zM250.57 481.87h2.26v4.98h-2.26zM253.05 484.27h2.26v1.40h-2.26zM255.53 457.17h2.26v0.13h-2.26zM258.02 509.57h2.26v18.95h-2.26zM260.50 509.14h2.26v3.56h-2.26zM265.47 483.35h2.26v2.32h-2.26zM267.96 494.91h2.26v10.66h-2.26zM270.44 508.79h2.26v2.89h-2.26zM272.93 516.32h2.26v1.13h-2.26zM275.41 520.22h2.26v9.99h-2.26zM280.38 502.63h2.26v4.58h-2.26zM282.87 504.16h2.26v5.71h-2.26zM287.84 510.36h2.26v0.89h-2.26zM292.81 503.80h2.26v4.22h-2.26zM295.29 522.76h2.26v2.85h-2.26zM297.78 532.22h2.26v4.32h-2.26zM302.75 517.77h2.26v1.40h-2.26zM305.23 500.73h2.26v8.66h-2.26zM307.72 502.72h2.26v1.65h-2.26zM312.69 459.72h2.26v1.90h-2.26zM315.17 520.86h2.26v4.14h-2.26zM320.14 488.16h2.26v4.76h-2.26zM322.63 512.42h2.26v10.18h-2.26zM325.11 484.33h2.26v5.31h-2.26zM327.60 522.74h2.26v2.36h-2.26zM330.08 543.49h2.26v4.34h-2.26zM332.57 489.58h2.26v0.43h-2.26zM335.05 514.24h2.26v7.50h-2.26zM340.02 462.88h2.26v0.63h-2.26zM342.51 471.58h2.26v6.90h-2.26zM344.99 401.90h2.26v5.10h-2.26zM347.48 501.07h2.26v4.12h-2.26zM349.96 504.19h2.26v2.98h-2.26zM354.93 495.45h2.26v5.78h-2.26zM357.42 516.90h2.26v11.14h-2.26zM359.90 528.51h2.26v1.78h-2.26zM362.39 429.60h2.26v5.90h-2.26zM364.87 511.16h2.26v11.59h-2.26zM369.84 507.68h2.26v8.06h-2.26zM372.33 503.80h2.26v4.76h-2.26zM377.30 502.74h2.26v7.79h-2.26zM379.78 524.38h2.26v6.69h-2.26zM382.27 509.15h2.26v5.20h-2.26zM384.75 534.53h2.26v11.19h-2.26zM387.24 532.99h2.26v8.74h-2.26zM389.72 537.08h2.26v6.48h-2.26zM392.21 459.55h2.26v1.80h-2.26zM394.69 501.73h2.26v4.71h-2.26zM397.18 458.36h2.26v3.58h-2.26zM399.66 490.27h2.26v2.32h-2.26zM402.15 513.94h2.26v3.99h-2.26zM404.63 497.27h2.26v3.25h-2.26zM407.12 483.79h2.26v1.06h-2.26zM409.60 516.55h2.26v1.66h-2.26zM414.57 516.62h2.26v0.86h-2.26zM417.06 519.19h2.26v8.99h-2.26zM419.54 509.52h2.26v2.77h-2.26zM422.03 511.76h2.26v1.82h-2.26zM427.00 494.49h2.26v3.66h-2.26zM429.48 493.70h2.26v3.61h-2.26zM434.45 521.28h2.26v3.06h-2.26zM436.94 485.60h2.26v2.70h-2.26zM441.91 499.34h2.26v6.11h-2.26zM444.39 458.39h2.26v2.97h-2.26zM446.88 500.46h2.26v7.17h-2.26zM449.36 535.86h2.26v5.33h-2.26zM454.33 519.35h2.26v7.93h-2.26zM461.79 479.59h2.26v11.32h-2.26zM466.76 465.65h2.26v1.89h-2.26zM469.24 526.91h2.26v1.18h-2.26z"/>
<path fill="#F55AF0" d="M36.86 510.26h2.26v1.70h-2.26zM39.34 507.26h2.26v7.62h-2.26zM41.83 521.15h2.26v10.03h-2.26zM44.31 513.51h2.26v2.23h-2.26zM51.77 489.86h2.26v6.16h-2.26zM54.25 474.16h2.26v6.42h-2.26zM56.74 478.95h2.26v0.77h-2.26zM59.22 510.87h2.26v5.73h-2.26zM66.68 529.39h2.26v11.23h-2.26zM69.16 515.51h2.26v2.81h-2.26zM74.13 519.74h2.26v2.86h-2.26zM76.62 493.70h2.26v4.03h-2.26zM79.10 495.76h2.26v1.97h-2.26zM81.59 446.91h2.26v5.36h-2.26zM89.04 483.37h2.26v3.22h-2.26zM91.53 545.32h2.26v1.29h-2.26zM94.01 543.58h2.26v7.33h-2.26zM103.95 503.59h2.26v3.57h-2.26zM106.44 530.27h2.26v6.05h-2.26zM108.92 495.16h2.26v1.71h-2.26zM111.41 531.54h2.26v6.51h-2.26zM116.38 517.53h2.26v5.08h-2.26zM118.86 507.26h2.26v2.48h-2.26zM121.35 502.81h2.26v6.08h-2.26zM133.77 515.15h2.26v4.02h-2.26zM136.26 521.00h2.26v2.46h-2.26zM138.74 542.42h2.26v9.34h-2.26zM141.23 525.19h2.26v3.42h-2.26zM143.71 510.22h2.26v2.09h-2.26zM148.68 481.39h2.26v1.76h-2.26zM153.65 494.88h2.26v1.14h-2.26zM156.14 483.62h2.26v20.12h-2.26zM161.11 482.37h2.26v0.78h-2.26zM163.59 523.95h2.26v7.23h-2.26zM166.08 528.87h2.26v9.18h-2.26zM168.56 488.69h2.26v5.61h-2.26zM171.05 506.98h2.26v5.33h-2.26zM176.02 537.54h2.26v9.93h-2.26zM183.47 516.52h2.26v8.66h-2.26zM185.96 520.99h2.26v8.47h-2.26zM188.44 536.86h2.26v5.89h-2.26zM190.93 545.22h2.26v10.83h-2.26zM193.41 522.00h2.26v6.61h-2.26zM198.38 514.58h2.26v9.74h-2.26zM200.87 528.67h2.26v1.65h-2.26zM203.35 493.12h2.26v6.32h-2.26zM205.84 546.31h2.26v7.16h-2.26zM208.32 507.11h2.26v8.63h-2.26zM215.78 531.88h2.26v7.02h-2.26zM218.26 487.47h2.26v3.40h-2.26zM223.23 542.36h2.26v7.69h-2.26zM225.72 493.90h2.26v12.41h-2.26zM228.20 515.90h2.26v3.27h-2.26zM230.69 482.61h2.26v14.27h-2.26zM233.17 480.87h2.26v4.00h-2.26zM235.66 473.95h2.26v18.63h-2.26zM238.14 491.75h2.26v2.56h-2.26zM240.63 513.66h2.26v7.23h-2.26zM243.11 495.89h2.26v4.42h-2.26zM245.60 478.08h2.26v2.50h-2.26zM250.57 486.85h2.26v3.16h-2.26zM253.05 485.67h2.26v3.48h-2.26zM255.53 457.29h2.26v0.13h-2.26zM258.02 528.52h2.26v16.39h-2.26zM260.50 512.70h2.26v9.90h-2.26zM265.47 485.67h2.26v3.48h-2.26zM267.96 505.58h2.26v6.74h-2.26zM270.44 511.68h2.26v3.21h-2.26zM275.41 530.22h2.26v2.68h-2.26zM277.90 492.70h2.26v5.47h-2.26zM280.38 507.21h2.26v3.39h-2.26zM282.87 509.87h2.26v1.59h-2.26zM287.84 511.25h2.26v1.92h-2.26zM290.32 496.39h2.26v2.20h-2.26zM297.78 536.54h2.26v6.65h-2.26zM300.26 486.97h2.26v2.19h-2.26zM305.23 509.40h2.26v7.21h-2.26zM307.72 504.37h2.26v5.37h-2.26zM312.69 461.62h2.26v0.94h-2.26zM315.17 525.00h2.26v7.03h-2.26zM317.66 511.65h2.26v10.95h-2.26zM320.14 492.93h2.26v3.09h-2.26zM325.11 489.63h2.26v2.95h-2.26zM327.60 525.11h2.26v6.93h-2.26zM330.08 547.83h2.26v4.79h-2.26zM340.02 463.50h2.26v0.78h-2.26zM342.51 478.48h2.26v12.39h-2.26zM347.48 505.19h2.26v7.12h-2.26zM352.45 466.59h2.26v1.98h-2.26zM354.93 501.23h2.26v6.80h-2.26zM357.42 528.04h2.26v9.15h-2.26zM359.90 530.28h2.26v6.04h-2.26zM364.87 522.75h2.26v5.86h-2.26zM367.36 540.63h2.26v3.42h-2.26zM372.33 508.56h2.26v8.90h-2.26zM377.30 510.53h2.26v20.65h-2.26zM379.78 531.06h2.26v6.98h-2.26zM382.27 514.35h2.26v4.82h-2.26zM384.75 545.72h2.26v1.75h-2.26zM387.24 541.73h2.26v4.89h-2.26zM389.72 543.55h2.26v7.35h-2.26zM392.21 461.35h2.26v2.93h-2.26zM394.69 506.44h2.26v3.30h-2.26zM397.18 461.94h2.26v2.34h-2.26zM402.15 517.93h2.26v1.24h-2.26zM404.63 500.52h2.26v8.79h-2.26zM407.12 484.84h2.26v1.31h-2.26zM409.60 518.21h2.26v3.54h-2.26zM412.09 537.49h2.26v1.40h-2.26zM414.57 517.48h2.26v5.55h-2.26zM419.54 512.29h2.26v6.45h-2.26zM422.03 513.58h2.26v3.03h-2.26zM424.51 511.67h2.26v13.51h-2.26zM427.00 498.16h2.26v9.01h-2.26zM431.97 502.68h2.26v6.63h-2.26zM434.45 524.34h2.26v3.41h-2.26zM444.39 461.35h2.26v2.93h-2.26zM446.88 507.63h2.26v9.83h-2.26zM449.36 541.19h2.26v2.00h-2.26zM451.85 499.59h2.26v7.58h-2.26zM454.33 527.29h2.26v3.89h-2.26zM459.30 550.54h2.26v6.36h-2.26zM461.79 490.91h2.26v14.55h-2.26zM464.27 531.58h2.26v4.75h-2.26zM466.76 467.54h2.26v1.03h-2.26zM469.24 528.09h2.26v7.38h-2.26z"/>
<path fill="#FF4E98" d="M36.86 511.97h2.26v60.73h-2.26zM39.34 516.39h2.26v56.31h-2.26zM41.83 536.18h2.26v36.52h-2.26zM44.31 515.74h2.26v56.96h-2.26zM46.80 531.89h2.26v40.81h-2.26zM49.28 503.59h2.26v69.11h-2.26zM51.77 496.02h2.26v76.68h-2.26zM54.25 482.08h2.26v90.62h-2.26zM56.74 482.72h2.26v89.98h-2.26zM59.22 519.60h2.26v53.10h-2.26zM61.71 550.05h2.26v22.65h-2.26zM64.19 516.60h2.26v56.10h-2.26zM66.68 540.61h2.26v32.09h-2.26zM69.16 518.32h2.26v54.38h-2.26zM71.65 377.10h2.26v195.60h-2.26zM74.13 527.60h2.26v45.10h-2.26zM76.62 497.73h2.26v74.97h-2.26zM79.10 497.73h2.26v74.97h-2.26zM81.59 452.28h2.26v120.42h-2.26zM84.07 537.90h2.26v34.80h-2.26zM86.56 542.11h2.26v30.59h-2.26zM89.04 488.08h2.26v84.62h-2.26zM91.53 551.62h2.26v21.08h-2.26zM94.01 550.91h2.26v21.79h-2.26zM96.50 397.00h2.26v175.70h-2.26zM98.98 467.93h2.26v104.77h-2.26zM101.47 535.47h2.26v37.23h-2.26zM103.95 507.17h2.26v65.53h-2.26zM106.44 536.33h2.26v36.37h-2.26zM108.92 496.87h2.26v75.83h-2.26zM111.41 543.04h2.26v29.66h-2.26zM113.89 507.17h2.26v65.53h-2.26zM116.38 524.10h2.26v48.60h-2.26zM118.86 509.74h2.26v62.96h-2.26zM121.35 508.88h2.26v63.82h-2.26zM123.83 553.26h2.26v19.44h-2.26zM126.32 536.33h2.26v36.37h-2.26zM128.80 538.04h2.26v34.66h-2.26zM131.29 529.89h2.26v42.81h-2.26zM133.77 519.17h2.26v53.53h-2.26zM136.26 523.46h2.26v49.24h-2.26zM138.74 551.76h2.26v20.94h-2.26zM141.23 533.61h2.26v39.09h-2.26zM143.71 513.81h2.26v58.89h-2.26zM146.20 510.60h2.26v62.10h-2.26zM148.68 483.15h2.26v89.55h-2.26zM151.17 496.87h2.26v75.83h-2.26zM153.65 496.02h2.26v76.68h-2.26zM156.14 508.74h2.26v63.96h-2.26zM158.62 547.26h2.26v25.44h-2.26zM161.11 484.65h2.26v88.05h-2.26zM163.59 536.18h2.26v36.52h-2.26zM166.08 541.04h2.26v31.66h-2.26zM168.56 494.30h2.26v78.40h-2.26zM171.05 517.31h2.26v55.39h-2.26zM173.53 526.68h2.26v46.02h-2.26zM176.02 550.48h2.26v22.22h-2.26zM178.50 537.04h2.26v35.66h-2.26zM180.99 546.62h2.26v26.08h-2.26zM183.47 530.18h2.26v42.52h-2.26zM185.96 534.46h2.26v38.24h-2.26zM188.44 542.76h2.26v29.94h-2.26zM190.93 561.05h2.26v11.65h-2.26zM193.41 528.61h2.26v44.09h-2.26zM195.90 539.76h2.26v32.94h-2.26zM198.38 524.32h2.26v48.38h-2.26zM200.87 530.32h2.26v42.38h-2.26zM203.35 502.45h2.26v70.25h-2.26zM205.84 553.48h2.26v19.22h-2.26zM208.32 517.24h2.26v55.46h-2.26zM210.81 517.46h2.26v55.24h-2.26zM213.29 533.75h2.26v38.95h-2.26zM215.78 538.90h2.26v33.80h-2.26zM218.26 490.87h2.26v81.83h-2.26zM220.75 549.19h2.26v23.51h-2.26zM223.23 553.05h2.26v19.65h-2.26zM225.72 506.31h2.26v66.39h-2.26zM228.20 519.17h2.26v53.53h-2.26zM230.69 496.87h2.26v75.83h-2.26zM233.17 484.87h2.26v87.83h-2.26zM235.66 492.59h2.26v80.11h-2.26zM238.14 497.30h2.26v75.40h-2.26zM240.63 523.89h2.26v48.81h-2.26zM243.11 505.31h2.26v67.39h-2.26zM245.60 483.58h2.26v89.12h-2.26zM248.08 534.61h2.26v38.09h-2.26zM250.57 493.01h2.26v79.69h-2.26zM253.05 492.16h2.26v80.54h-2.26zM255.53 460.42h2.26v112.28h-2.26zM258.02 544.90h2.26v27.80h-2.26zM260.50 524.10h2.26v48.60h-2.26zM262.99 549.04h2.26v23.66h-2.26zM265.47 490.66h2.26v82.04h-2.26zM267.96 515.31h2.26v57.39h-2.26zM270.44 519.89h2.26v52.81h-2.26zM272.93 522.46h2.26v50.24h-2.26zM275.41 537.90h2.26v34.80h-2.26zM277.90 499.66h2.26v73.04h-2.26zM280.38 510.60h2.26v62.10h-2.26zM282.87 511.45h2.26v61.25h-2.26zM285.35 463.00h2.26v109.70h-2.26zM287.84 514.67h2.26v58.03h-2.26zM290.32 500.09h2.26v72.61h-2.26zM292.81 511.02h2.26v61.68h-2.26zM295.29 527.11h2.26v45.59h-2.26zM297.78 544.69h2.26v28.01h-2.26zM300.26 492.16h2.26v80.54h-2.26zM302.75 519.17h2.26v53.53h-2.26zM305.23 516.60h2.26v56.10h-2.26zM307.72 511.24h2.26v61.46h-2.26zM310.20 496.02h2.26v76.68h-2.26zM312.69 467.57h2.26v105.13h-2.26zM315.17 532.04h2.26v40.66h-2.26zM317.66 527.60h2.26v45.10h-2.26zM320.14 499.02h2.26v73.68h-2.26zM322.63 522.60h2.26v50.10h-2.26zM325.11 494.09h2.26v78.61h-2.26zM327.60 532.04h2.26v40.66h-2.26zM330.08 554.12h2.26v18.58h-2.26zM332.57 495.01h2.26v77.69h-2.26zM335.05 523.25h2.26v49.45h-2.26zM337.54 505.88h2.26v66.82h-2.26zM340.02 464.28h2.26v108.42h-2.26zM342.51 495.87h2.26v76.83h-2.26zM344.99 407.00h2.26v165.70h-2.26zM347.48 513.81h2.26v58.89h-2.26zM349.96 510.17h2.26v62.53h-2.26zM352.45 468.57h2.26v104.13h-2.26zM354.93 509.52h2.26v63.18h-2.26zM357.42 537.18h2.26v35.52h-2.26zM359.90 536.33h2.26v36.37h-2.26zM362.39 435.50h2.26v137.20h-2.26zM364.87 531.61h2.26v41.09h-2.26zM367.36 544.04h2.26v28.66h-2.26zM369.84 515.74h2.26v56.96h-2.26zM372.33 517.46h2.26v55.24h-2.26zM374.81 518.74h2.26v53.96h-2.26zM377.30 531.18h2.26v41.52h-2.26zM379.78 543.04h2.26v29.66h-2.26zM382.27 524.17h2.26v48.53h-2.26zM384.75 547.48h2.26v25.22h-2.26zM387.24 546.62h2.26v26.08h-2.26zM389.72 553.91h2.26v18.79h-2.26zM392.21 464.28h2.26v108.42h-2.26zM394.69 509.74h2.26v62.96h-2.26zM397.18 465.78h2.26v106.92h-2.26zM399.66 492.59h2.26v80.11h-2.26zM402.15 519.17h2.26v53.53h-2.26zM404.63 509.31h2.26v63.39h-2.26zM407.12 487.65h2.26v85.05h-2.26zM409.60 521.75h2.26v50.95h-2.26zM412.09 541.90h2.26v30.80h-2.26zM414.57 523.03h2.26v49.67h-2.26zM417.06 528.18h2.26v44.52h-2.26zM419.54 520.24h2.26v52.46h-2.26zM422.03 518.10h2.26v54.60h-2.26zM424.51 528.18h2.26v44.52h-2.26zM427.00 507.17h2.26v65.53h-2.26zM429.48 497.30h2.26v75.40h-2.26zM431.97 510.81h2.26v61.89h-2.26zM434.45 527.75h2.26v44.95h-2.26zM436.94 488.30h2.26v84.40h-2.26zM439.42 532.68h2.26v40.02h-2.26zM441.91 505.45h2.26v67.25h-2.26zM444.39 464.28h2.26v108.42h-2.26zM446.88 517.46h2.26v55.24h-2.26zM449.36 544.69h2.26v28.01h-2.26zM451.85 510.17h2.26v62.53h-2.26zM454.33 531.18h2.26v41.52h-2.26zM456.82 520.67h2.26v52.03h-2.26zM459.30 558.41h2.26v14.29h-2.26zM461.79 506.95h2.26v65.75h-2.26zM464.27 541.33h2.26v31.37h-2.26zM466.76 471.57h2.26v101.13h-2.26zM469.24 535.47h2.26v37.23h-2.26zM471.73 539.54h2.26v33.16h-2.26z"/>
<path fill="#78B400" d="M39.34 410.93h2.26v10.51h-2.26zM41.83 408.80h2.26v3.05h-2.26zM46.80 430.45h2.26v5.28h-2.26zM49.28 405.90h2.26v10.79h-2.26zM51.77 432.26h2.26v6.66h-2.26zM54.25 439.58h2.26v6.42h-2.26zM56.74 432.41h2.26v3.49h-2.26zM59.22 443.48h2.26v3.41h-2.26zM64.19 403.94h2.26v8.78h-2.26zM69.16 456.50h2.26v1.29h-2.26zM76.62 395.88h2.26v11.10h-2.26zM81.59 400.10h2.26v2.65h-2.26zM84.07 457.52h2.26v2.55h-2.26zM89.04 418.81h2.26v5.85h-2.26zM98.98 411.83h2.26v15.80h-2.26zM101.47 455.60h2.26v11.91h-2.26zM103.95 449.54h2.26v6.23h-2.26zM106.44 438.04h2.26v30.11h-2.26zM108.92 444.55h2.26v4.80h-2.26zM111.41 467.80h2.26v17.03h-2.26zM113.89 472.42h2.26v11.57h-2.26zM118.86 434.35h2.26v18.28h-2.26zM123.83 450.39h2.26v37.08h-2.26zM126.32 457.01h2.26v7.79h-2.26zM136.26 454.92h2.26v7.14h-2.26zM138.74 487.87h2.26v7.12h-2.26zM141.23 471.61h2.26v12.02h-2.26zM146.20 430.35h2.26v27.92h-2.26zM151.17 418.13h2.26v20.45h-2.26zM158.62 451.11h2.26v20.33h-2.26zM161.11 455.08h2.26v4.95h-2.26zM163.59 451.91h2.26v17.79h-2.26zM166.08 462.12h2.26v14.81h-2.26zM171.05 444.87h2.26v11.01h-2.26zM176.02 456.10h2.26v20.50h-2.26zM178.50 472.07h2.26v15.77h-2.26zM180.99 464.66h2.26v18.91h-2.26zM183.47 433.54h2.26v13.17h-2.26zM185.96 451.56h2.26v11.92h-2.26zM188.44 438.72h2.26v4.47h-2.26zM193.41 465.11h2.26v14.13h-2.26zM195.90 442.53h2.26v16.42h-2.26zM198.38 416.14h2.26v21.36h-2.26zM200.87 467.65h2.26v2.99h-2.26zM203.35 415.96h2.26v8.72h-2.26zM205.84 466.68h2.26v17.31h-2.26zM210.81 465.59h2.26v11.59h-2.26zM215.78 392.00h2.26v25.80h-2.26zM218.26 469.48h2.26v5.36h-2.26zM223.23 460.11h2.26v11.83h-2.26zM230.69 406.60h2.26v23.20h-2.26zM238.14 437.86h2.26v16.49h-2.26zM240.63 429.85h2.26v13.48h-2.26zM243.11 442.15h2.26v4.50h-2.26zM245.60 448.91h2.26v5.33h-2.26zM248.08 469.68h2.26v16.37h-2.26zM250.57 441.72h2.26v12.24h-2.26zM253.05 428.72h2.26v5.37h-2.26zM255.53 453.12h2.26v1.33h-2.26zM260.50 448.93h2.26v4.82h-2.26zM262.99 494.01h2.26v23.42h-2.26zM265.47 442.22h2.26v6.22h-2.26zM267.96 422.26h2.26v11.77h-2.26zM272.93 480.73h2.26v4.26h-2.26zM275.41 418.64h2.26v29.83h-2.26zM277.90 441.64h2.26v15.37h-2.26zM280.38 455.77h2.26v6.50h-2.26zM282.87 441.44h2.26v9.56h-2.26zM287.84 476.52h2.26v13.00h-2.26zM290.32 461.82h2.26v1.45h-2.26zM292.81 469.28h2.26v10.79h-2.26zM295.29 440.97h2.26v17.33h-2.26zM300.26 454.68h2.26v6.21h-2.26zM302.75 472.67h2.26v12.73h-2.26zM305.23 445.66h2.26v12.87h-2.26zM307.72 472.05h2.26v7.75h-2.26zM310.20 439.82h2.26v7.91h-2.26zM312.69 440.59h2.26v6.09h-2.26zM315.17 433.85h2.26v19.62h-2.26zM317.66 443.48h2.26v21.80h-2.26zM320.14 443.87h2.26v10.00h-2.26zM330.08 482.20h2.26v22.21h-2.26zM337.54 401.46h2.26v27.68h-2.26zM340.02 458.15h2.26v0.33h-2.26zM342.51 417.23h2.26v20.88h-2.26zM344.99 348.60h2.26v17.40h-2.26zM347.48 453.14h2.26v10.64h-2.26zM349.96 425.15h2.26v10.54h-2.26zM352.45 425.41h2.26v10.99h-2.26zM354.93 444.10h2.26v13.19h-2.26zM357.42 453.99h2.26v10.49h-2.26zM359.90 454.70h2.26v10.81h-2.26zM364.87 395.23h2.26v18.14h-2.26zM367.36 470.17h2.26v3.59h-2.26zM372.33 446.32h2.26v4.17h-2.26zM374.81 418.26h2.26v33.22h-2.26zM377.30 440.45h2.26v15.95h-2.26zM379.78 469.92h2.26v11.11h-2.26zM389.72 457.63h2.26v19.66h-2.26zM392.21 419.53h2.26v8.60h-2.26zM394.69 447.29h2.26v6.36h-2.26zM397.18 417.83h2.26v7.57h-2.26zM399.66 451.18h2.26v5.57h-2.26zM402.15 462.32h2.26v8.93h-2.26zM409.60 479.54h2.26v1.96h-2.26zM412.09 467.49h2.26v10.94h-2.26zM414.57 445.16h2.26v14.11h-2.26zM417.06 469.52h2.26v7.97h-2.26zM419.54 428.95h2.26v24.09h-2.26zM422.03 491.20h2.26v0.92h-2.26zM424.51 407.07h2.26v23.39h-2.26zM427.00 411.02h2.26v9.45h-2.26zM429.48 422.30h2.26v21.32h-2.26zM431.97 425.58h2.26v6.73h-2.26zM434.45 432.86h2.26v21.13h-2.26zM439.42 466.01h2.26v20.27h-2.26zM441.91 415.09h2.26v7.85h-2.26zM444.39 421.71h2.26v8.62h-2.26zM449.36 478.93h2.26v15.80h-2.26zM451.85 461.23h2.26v13.80h-2.26zM454.33 461.04h2.26v16.98h-2.26zM456.82 482.60h2.26v7.29h-2.26zM459.30 472.35h2.26v29.01h-2.26zM461.79 404.18h2.26v22.21h-2.26zM464.27 420.38h2.26v27.71h-2.26zM466.76 423.76h2.26v9.72h-2.26zM469.24 439.82h2.26v15.63h-2.26z"/>
<path fill="#00BE00" d="M39.34 421.43h2.26v54.44h-2.26zM41.83 411.85h2.26v29.95h-2.26zM44.31 458.32h2.26v26.13h-2.26zM46.80 435.73h2.26v23.32h-2.26zM49.28 416.69h2.26v24.20h-2.26zM51.77 438.92h2.26v8.80h-2.26zM54.25 446.00h2.26v11.49h-2.26zM56.74 435.90h2.26v19.17h-2.26zM59.22 446.89h2.26v21.29h-2.26zM64.19 412.72h2.26v45.29h-2.26zM66.68 417.50h2.26v17.52h-2.26zM71.65 362.50h2.26v5.80h-2.26zM74.13 442.03h2.26v31.26h-2.26zM76.62 406.98h2.26v48.49h-2.26zM79.10 431.62h2.26v6.36h-2.26zM84.07 460.07h2.26v9.20h-2.26zM86.56 427.06h2.26v16.94h-2.26zM89.04 424.66h2.26v29.79h-2.26zM91.53 466.24h2.26v26.06h-2.26zM94.01 459.72h2.26v24.04h-2.26zM96.50 365.40h2.26v11.70h-2.26zM101.47 467.52h2.26v17.73h-2.26zM103.95 455.76h2.26v11.59h-2.26zM106.44 468.14h2.26v28.78h-2.26zM108.92 449.36h2.26v6.69h-2.26zM111.41 484.83h2.26v24.51h-2.26zM113.89 484.00h2.26v2.69h-2.26zM116.38 403.51h2.26v32.05h-2.26zM118.86 452.63h2.26v20.85h-2.26zM121.35 415.96h2.26v32.84h-2.26zM123.83 487.48h2.26v26.85h-2.26zM126.32 464.81h2.26v22.39h-2.26zM128.80 485.68h2.26v21.20h-2.26zM141.23 483.63h2.26v9.57h-2.26zM146.20 458.26h2.26v31.35h-2.26zM148.68 436.33h2.26v11.90h-2.26zM151.17 438.58h2.26v8.25h-2.26zM153.65 426.66h2.26v13.09h-2.26zM156.14 412.96h2.26v10.67h-2.26zM158.62 471.44h2.26v20.20h-2.26zM163.59 469.70h2.26v15.34h-2.26zM168.56 413.41h2.26v15.12h-2.26zM171.05 455.89h2.26v10.01h-2.26zM173.53 431.81h2.26v23.38h-2.26zM176.02 476.60h2.26v17.37h-2.26zM178.50 487.84h2.26v10.66h-2.26zM180.99 483.57h2.26v13.34h-2.26zM185.96 463.48h2.26v13.74h-2.26zM188.44 443.19h2.26v28.18h-2.26zM190.93 462.92h2.26v18.12h-2.26zM193.41 479.25h2.26v13.24h-2.26zM195.90 458.94h2.26v28.32h-2.26zM198.38 437.50h2.26v37.37h-2.26zM200.87 470.65h2.26v20.78h-2.26zM203.35 424.68h2.26v4.85h-2.26zM205.84 483.99h2.26v9.85h-2.26zM210.81 477.17h2.26v17.44h-2.26zM215.78 417.80h2.26v7.27h-2.26zM220.75 464.84h2.26v38.98h-2.26zM223.23 471.94h2.26v14.77h-2.26zM225.72 434.52h2.26v8.12h-2.26zM228.20 458.76h2.26v16.13h-2.26zM233.17 436.76h2.26v18.11h-2.26zM238.14 454.36h2.26v3.25h-2.26zM240.63 443.32h2.26v26.73h-2.26zM243.11 446.66h2.26v21.11h-2.26zM248.08 486.05h2.26v10.34h-2.26zM250.57 453.96h2.26v2.00h-2.26zM255.53 454.44h2.26v0.57h-2.26zM258.02 435.89h2.26v16.42h-2.26zM260.50 453.76h2.26v14.40h-2.26zM265.47 448.43h2.26v5.40h-2.26zM267.96 434.04h2.26v29.07h-2.26zM270.44 484.76h2.26v2.72h-2.26zM272.93 484.99h2.26v9.87h-2.26zM275.41 448.47h2.26v27.89h-2.26zM282.87 451.00h2.26v6.57h-2.26zM285.35 357.40h2.26v50.30h-2.26zM287.84 489.52h2.26v6.39h-2.26zM290.32 463.27h2.26v13.72h-2.26zM295.29 458.30h2.26v26.21h-2.26zM297.78 481.26h2.26v15.45h-2.26zM302.75 485.40h2.26v7.55h-2.26zM305.23 458.53h2.26v4.14h-2.26zM307.72 479.80h2.26v2.65h-2.26zM310.20 447.74h2.26v8.24h-2.26zM315.17 453.46h2.26v41.20h-2.26zM320.14 453.87h2.26v14.36h-2.26zM325.11 449.45h2.26v11.27h-2.26zM327.60 487.20h2.26v7.00h-2.26zM330.08 504.41h2.26v8.65h-2.26zM335.05 458.61h2.26v25.50h-2.26zM347.48 463.78h2.26v19.00h-2.26zM349.96 435.70h2.26v16.71h-2.26zM352.45 436.40h2.26v9.33h-2.26zM357.42 464.48h2.26v17.74h-2.26zM362.39 354.50h2.26v37.20h-2.26zM364.87 413.37h2.26v48.76h-2.26zM367.36 473.76h2.26v28.49h-2.26zM369.84 435.56h2.26v34.46h-2.26zM374.81 451.48h2.26v23.84h-2.26zM384.75 449.66h2.26v21.58h-2.26zM387.24 460.61h2.26v28.92h-2.26zM389.72 477.29h2.26v5.75h-2.26zM392.21 428.14h2.26v8.53h-2.26zM394.69 453.65h2.26v17.38h-2.26zM397.18 425.39h2.26v12.11h-2.26zM399.66 456.75h2.26v4.39h-2.26zM402.15 471.25h2.26v14.61h-2.26zM404.63 425.96h2.26v14.63h-2.26zM409.60 481.50h2.26v10.32h-2.26zM412.09 478.42h2.26v15.32h-2.26zM414.57 459.27h2.26v16.73h-2.26zM417.06 477.50h2.26v15.94h-2.26zM419.54 453.04h2.26v15.30h-2.26zM422.03 492.12h2.26v2.86h-2.26zM427.00 420.47h2.26v6.08h-2.26zM429.48 443.62h2.26v20.96h-2.26zM431.97 432.31h2.26v22.55h-2.26zM434.45 453.99h2.26v14.86h-2.26zM436.94 449.58h2.26v10.77h-2.26zM441.91 422.94h2.26v7.14h-2.26zM454.33 478.02h2.26v4.11h-2.26zM464.27 448.08h2.26v38.29h-2.26zM466.76 433.48h2.26v7.07h-2.26zM469.24 455.46h2.26v29.49h-2.26z"/>
<path fill="#7F90FF" d="M39.34 489.68h2.26v8.46h-2.26zM44.31 506.64h2.26v5.35h-2.26zM46.80 512.87h2.26v5.85h-2.26zM49.28 484.49h2.26v8.35h-2.26zM54.25 467.02h2.26v2.28h-2.26zM56.74 474.16h2.26v2.03h-2.26zM59.22 501.58h2.26v6.08h-2.26zM66.68 526.01h2.26v3.38h-2.26zM69.16 505.96h2.26v7.89h-2.26zM74.13 505.79h2.26v7.80h-2.26zM76.62 485.97h2.26v1.44h-2.26zM79.10 491.00h2.26v1.19h-2.26zM84.07 508.71h2.26v12.29h-2.26zM86.56 532.36h2.26v2.46h-2.26zM91.53 535.26h2.26v10.07h-2.26zM94.01 538.38h2.26v5.20h-2.26zM98.98 459.38h2.26v4.16h-2.26zM106.44 511.67h2.26v9.18h-2.26zM111.41 520.30h2.26v6.69h-2.26zM113.89 499.93h2.26v4.98h-2.26zM118.86 498.54h2.26v5.18h-2.26zM126.32 529.42h2.26v6.90h-2.26zM128.80 531.51h2.26v6.53h-2.26zM131.29 507.26h2.26v14.21h-2.26zM133.77 509.46h2.26v3.05h-2.26zM136.26 501.99h2.26v11.15h-2.26zM138.74 535.01h2.26v4.49h-2.26zM143.71 504.31h2.26v5.91h-2.26zM148.68 472.39h2.26v4.05h-2.26zM151.17 489.29h2.26v7.59h-2.26zM161.11 477.55h2.26v4.82h-2.26zM163.59 516.06h2.26v7.88h-2.26zM168.56 485.43h2.26v3.26h-2.26zM173.53 508.18h2.26v11.77h-2.26zM176.02 530.39h2.26v7.15h-2.26zM178.50 523.25h2.26v4.18h-2.26zM180.99 531.72h2.26v7.78h-2.26zM185.96 513.92h2.26v7.07h-2.26zM188.44 534.22h2.26v2.64h-2.26zM193.41 514.68h2.26v1.30h-2.26zM195.90 529.39h2.26v10.36h-2.26zM198.38 501.77h2.26v7.00h-2.26zM200.87 515.84h2.26v7.92h-2.26zM208.32 500.41h2.26v6.70h-2.26zM210.81 516.55h2.26v0.91h-2.26zM215.78 519.97h2.26v8.68h-2.26zM218.26 482.82h2.26v1.69h-2.26zM220.75 540.36h2.26v5.40h-2.26zM223.23 539.08h2.26v3.29h-2.26zM225.72 475.17h2.26v8.79h-2.26zM228.20 505.60h2.26v4.29h-2.26zM235.66 452.33h2.26v13.56h-2.26zM238.14 480.75h2.26v6.43h-2.26zM240.63 510.38h2.26v3.27h-2.26zM243.11 493.96h2.26v1.07h-2.26zM245.60 474.01h2.26v1.62h-2.26zM248.08 527.08h2.26v0.99h-2.26zM253.05 478.67h2.26v5.60h-2.26zM255.53 456.41h2.26v0.76h-2.26zM260.50 504.79h2.26v4.35h-2.26zM262.99 538.05h2.26v5.99h-2.26zM265.47 477.50h2.26v5.85h-2.26zM270.44 506.53h2.26v2.26h-2.26zM272.93 512.76h2.26v3.56h-2.26zM275.41 508.35h2.26v11.88h-2.26zM277.90 484.95h2.26v7.75h-2.26zM282.87 500.70h2.26v3.47h-2.26zM287.84 507.68h2.26v2.68h-2.26zM292.81 501.34h2.26v2.46h-2.26zM295.29 514.68h2.26v8.08h-2.26zM300.26 485.73h2.26v1.24h-2.26zM302.75 516.90h2.26v0.87h-2.26zM307.72 501.69h2.26v1.04h-2.26zM310.20 490.62h2.26v5.40h-2.26zM312.69 459.11h2.26v0.61h-2.26zM315.17 510.85h2.26v10.01h-2.26zM317.66 505.14h2.26v6.51h-2.26zM320.14 487.07h2.26v1.09h-2.26zM322.63 493.64h2.26v18.78h-2.26zM327.60 518.47h2.26v4.28h-2.26zM330.08 536.57h2.26v6.92h-2.26zM335.05 507.55h2.26v6.69h-2.26zM340.02 462.78h2.26v0.09h-2.26zM347.48 498.42h2.26v2.65h-2.26zM349.96 494.31h2.26v9.87h-2.26zM352.45 462.21h2.26v4.38h-2.26zM354.93 488.56h2.26v6.89h-2.26zM359.90 518.74h2.26v9.76h-2.26zM364.87 503.51h2.26v7.64h-2.26zM369.84 505.05h2.26v2.63h-2.26zM372.33 500.46h2.26v3.34h-2.26zM374.81 512.49h2.26v3.25h-2.26zM377.30 497.33h2.26v5.42h-2.26zM379.78 519.21h2.26v5.17h-2.26zM382.27 508.00h2.26v1.15h-2.26zM384.75 522.82h2.26v11.72h-2.26zM387.24 528.71h2.26v4.28h-2.26zM389.72 528.72h2.26v8.36h-2.26zM392.21 457.47h2.26v2.08h-2.26zM397.18 456.97h2.26v1.40h-2.26zM399.66 488.37h2.26v1.90h-2.26zM404.63 491.58h2.26v5.70h-2.26zM407.12 481.28h2.26v2.50h-2.26zM409.60 513.49h2.26v3.06h-2.26zM412.09 534.57h2.26v2.93h-2.26zM414.57 511.35h2.26v5.27h-2.26zM419.54 508.40h2.26v1.13h-2.26zM422.03 510.29h2.26v1.47h-2.26zM424.51 499.42h2.26v12.25h-2.26zM427.00 482.63h2.26v11.86h-2.26zM429.48 483.30h2.26v10.40h-2.26zM431.97 495.12h2.26v7.56h-2.26zM434.45 515.88h2.26v5.40h-2.26zM436.94 484.02h2.26v1.57h-2.26zM441.91 486.87h2.26v12.47h-2.26zM444.39 453.04h2.26v5.35h-2.26zM449.36 525.85h2.26v10.01h-2.26zM454.33 515.33h2.26v4.02h-2.26zM456.82 514.97h2.26v4.20h-2.26zM461.79 472.87h2.26v6.72h-2.26zM464.27 528.14h2.26v3.44h-2.26z"/>
<path fill="#FF55CC" d="M39.34 514.89h2.26v1.50h-2.26zM41.83 531.18h2.26v5.00h-2.26zM46.80 526.89h2.26v5.00h-2.26zM49.28 498.59h2.26v5.00h-2.26zM54.25 480.58h2.26v1.50h-2.26zM56.74 479.72h2.26v3.00h-2.26zM59.22 516.60h2.26v3.00h-2.26zM74.13 522.60h2.26v5.00h-2.26zM84.07 532.90h2.26v5.00h-2.26zM86.56 540.61h2.26v1.50h-2.26zM89.04 486.58h2.26v1.50h-2.26zM91.53 546.62h2.26v5.00h-2.26zM98.98 466.43h2.26v1.50h-2.26zM111.41 538.04h2.26v5.00h-2.26zM116.38 522.60h2.26v1.50h-2.26zM123.83 551.76h2.26v1.50h-2.26zM131.29 526.89h2.26v3.00h-2.26zM141.23 528.61h2.26v5.00h-2.26zM143.71 512.31h2.26v1.50h-2.26zM156.14 503.74h2.26v5.00h-2.26zM158.62 545.76h2.26v1.50h-2.26zM161.11 483.15h2.26v1.50h-2.26zM163.59 531.18h2.26v5.00h-2.26zM166.08 538.04h2.26v3.00h-2.26zM171.05 512.31h2.26v5.00h-2.26zM173.53 525.18h2.26v1.50h-2.26zM176.02 547.48h2.26v3.00h-2.26zM178.50 532.04h2.26v5.00h-2.26zM183.47 525.18h2.26v5.00h-2.26zM185.96 529.46h2.26v5.00h-2.26zM190.93 556.05h2.26v4.99h-2.26zM203.35 499.45h2.26v3.00h-2.26zM208.32 515.74h2.26v1.50h-2.26zM223.23 550.05h2.26v3.00h-2.26zM238.14 494.30h2.26v3.00h-2.26zM240.63 520.89h2.26v3.00h-2.26zM243.11 500.31h2.26v5.00h-2.26zM245.60 480.58h2.26v3.00h-2.26zM250.57 490.01h2.26v3.00h-2.26zM253.05 489.16h2.26v3.00h-2.26zM255.53 457.42h2.26v3.00h-2.26zM260.50 522.60h2.26v1.50h-2.26zM262.99 544.04h2.26v5.00h-2.26zM265.47 489.16h2.26v1.50h-2.26zM267.96 512.31h2.26v3.00h-2.26zM270.44 514.89h2.26v5.00h-2.26zM272.93 517.46h2.26v5.00h-2.26zM275.41 532.90h2.26v5.00h-2.26zM277.90 498.16h2.26v1.50h-2.26zM287.84 513.17h2.26v1.50h-2.26zM290.32 498.59h2.26v1.50h-2.26zM292.81 508.02h2.26v3.00h-2.26zM295.29 525.61h2.26v1.50h-2.26zM297.78 543.19h2.26v1.50h-2.26zM300.26 489.16h2.26v3.00h-2.26zM307.72 509.74h2.26v1.50h-2.26zM312.69 462.57h2.26v5.00h-2.26zM317.66 522.60h2.26v5.00h-2.26zM320.14 496.02h2.26v3.00h-2.26zM325.11 492.59h2.26v1.50h-2.26zM330.08 552.62h2.26v1.50h-2.26zM332.57 490.01h2.26v5.00h-2.26zM335.05 521.75h2.26v1.50h-2.26zM337.54 502.88h2.26v3.00h-2.26zM342.51 490.87h2.26v5.00h-2.26zM347.48 512.31h2.26v1.50h-2.26zM349.96 507.17h2.26v3.00h-2.26zM354.93 508.02h2.26v1.50h-2.26zM364.87 528.61h2.26v3.00h-2.26zM374.81 515.74h2.26v3.00h-2.26zM379.78 538.04h2.26v5.00h-2.26zM382.27 519.17h2.26v5.00h-2.26zM389.72 550.91h2.26v3.00h-2.26zM397.18 464.28h2.26v1.50h-2.26zM407.12 486.15h2.26v1.50h-2.26zM412.09 538.90h2.26v3.00h-2.26zM419.54 518.74h2.26v1.50h-2.26zM422.03 516.60h2.26v1.50h-2.26zM424.51 525.18h2.26v3.00h-2.26zM431.97 509.31h2.26v1.50h-2.26zM439.42 531.18h2.26v1.50h-2.26zM449.36 543.19h2.26v1.50h-2.26zM451.85 507.17h2.26v3.00h-2.26zM456.82 519.17h2.26v1.50h-2.26zM459.30 556.91h2.26v1.50h-2.26zM461.79 505.45h2.26v1.50h-2.26zM464.27 536.33h2.26v5.00h-2.26zM466.76 468.57h2.26v3.00h-2.26zM471.73 538.04h2.26v1.50h-2.26z"/>
<rect x="36.9" y="589.2" width="172.9" height="6.5" fill="#448C22"/>
<rect x="209.8" y="589.2" width="145" height="6.5" fill="#FF8800"/>
<rect x="354.8" y="589.2" width="119.3" height="6.5" fill="#D4001F"/>
<text x="220.80" y="620.40" font-size="15" fill="#000" font-family="Liberation Serif, serif" font-weight="bold" textLength="15.80" lengthAdjust="spacingAndGlyphs">(c)</text>
<text x="510.00" y="340.60" font-size="9.5" fill="#000" font-family="DejaVu Sans, Liberation Sans, sans-serif" textLength="21.20" lengthAdjust="spacingAndGlyphs">genus</text>
<rect x="510" y="346.85" width="11" height="13" fill="#F8766D"/>
<text x="0" y="356.25" font-size="8" fill="#1A1A1A" font-family="DejaVu Sans, Liberation Sans, sans-serif" class="gl" transform="matrix(0.783 0 0 1 525.4 0)">Blautia</text>
<rect x="510" y="361.16" width="11" height="13" fill="#E68613"/>
<text x="0" y="370.56" font-size="8" fill="#1A1A1A" font-family="DejaVu Sans, Liberation Sans, sans-serif" class="gl" transform="matrix(0.783 0 0 1 525.4 0)">Bacteroides</text>
<rect x="510" y="375.47" width="11" height="13" fill="#CD9600"/>
<text x="0" y="384.87" font-size="8" fill="#1A1A1A" font-family="DejaVu Sans, Liberation Sans, sans-serif" class="gl" transform="matrix(0.783 0 0 1 525.4 0)">Akkermansia</text>
<rect x="510" y="389.78" width="11" height="13" fill="#ABA300"/>
<text x="0" y="399.18" font-size="8" fill="#1A1A1A" font-family="DejaVu Sans, Liberation Sans, sans-serif" class="gl" transform="matrix(0.783 0 0 1 525.4 0)">Roseburia97</text>
<rect x="510" y="404.09" width="11" height="13" fill="#7CAE00"/>
<text x="0" y="413.49" font-size="8" fill="#1A1A1A" font-family="DejaVu Sans, Liberation Sans, sans-serif" class="gl" transform="matrix(0.783 0 0 1 525.4 0)">Faecalibacterium</text>
<rect x="510" y="418.40" width="11" height="13" fill="#0CB702"/>
<text x="0" y="427.80" font-size="8" fill="#1A1A1A" font-family="DejaVu Sans, Liberation Sans, sans-serif" class="gl" transform="matrix(0.783 0 0 1 525.4 0)">Anaerostipes</text>
<rect x="510" y="432.71" width="11" height="13" fill="#00BE67"/>
<text x="0" y="442.11" font-size="8" fill="#1A1A1A" font-family="DejaVu Sans, Liberation Sans, sans-serif" class="gl" transform="matrix(0.783 0 0 1 525.4 0)">Blautia97</text>
<rect x="510" y="447.02" width="11" height="13" fill="#00C19A"/>
<text x="0" y="456.42" font-size="8" fill="#1A1A1A" font-family="DejaVu Sans, Liberation Sans, sans-serif" class="gl" transform="matrix(0.783 0 0 1 525.4 0)">Ruminococcus69</text>
<rect x="510" y="461.33" width="11" height="13" fill="#00BFC4"/>
<text x="0" y="470.73" font-size="8" fill="#1A1A1A" font-family="DejaVu Sans, Liberation Sans, sans-serif" class="gl" transform="matrix(0.783 0 0 1 525.4 0)">Alistipes</text>
<rect x="510" y="475.64" width="11" height="13" fill="#00B8E7"/>
<text x="0" y="485.04" font-size="8" fill="#1A1A1A" font-family="DejaVu Sans, Liberation Sans, sans-serif" class="gl" transform="matrix(0.783 0 0 1 525.4 0)">Bifidobacterium</text>
<rect x="510" y="489.95" width="11" height="13" fill="#00A9FF"/>
<text x="0" y="499.35" font-size="8" fill="#1A1A1A" font-family="DejaVu Sans, Liberation Sans, sans-serif" class="gl" transform="matrix(0.783 0 0 1 525.4 0)">Ruminococcus257</text>
<rect x="510" y="504.26" width="11" height="13" fill="#8494FF"/>
<text x="0" y="513.66" font-size="8" fill="#1A1A1A" font-family="DejaVu Sans, Liberation Sans, sans-serif" class="gl" transform="matrix(0.783 0 0 1 525.4 0)">Collinsella</text>
<rect x="510" y="518.57" width="11" height="13" fill="#C77CFF"/>
<text x="0" y="527.97" font-size="8" fill="#1A1A1A" font-family="DejaVu Sans, Liberation Sans, sans-serif" class="gl" transform="matrix(0.783 0 0 1 525.4 0)">Streptococcus</text>
<rect x="510" y="532.88" width="11" height="13" fill="#ED68ED"/>
<text x="0" y="542.28" font-size="8" fill="#1A1A1A" font-family="DejaVu Sans, Liberation Sans, sans-serif" class="gl" transform="matrix(0.783 0 0 1 525.4 0)">Phascolarctobacterium</text>
<rect x="510" y="547.19" width="11" height="13" fill="#FF61CC"/>
<text x="0" y="556.59" font-size="8" fill="#1A1A1A" font-family="DejaVu Sans, Liberation Sans, sans-serif" class="gl" transform="matrix(0.783 0 0 1 525.4 0)">Prevotella</text>
<rect x="510" y="561.50" width="11" height="13" fill="#FF68A1"/>
<text x="0" y="570.90" font-size="8" fill="#1A1A1A" font-family="DejaVu Sans, Liberation Sans, sans-serif" class="gl" transform="matrix(0.783 0 0 1 525.4 0)">others</text>
<text x="601.80" y="339.50" font-size="9.5" fill="#000" font-family="DejaVu Sans, Liberation Sans, sans-serif" textLength="25.70" lengthAdjust="spacingAndGlyphs">group</text>
<rect x="602" y="343.00" width="13.6" height="10.9" fill="#329626"/>
<text x="620.70" y="351.50" font-size="8.1" fill="#1A1A1A" font-family="DejaVu Sans, Liberation Sans, sans-serif">Normal</text>
<rect x="602" y="354.75" width="13.6" height="10.9" fill="#FF9100"/>
<text x="620.70" y="363.25" font-size="8.1" fill="#1A1A1A" font-family="DejaVu Sans, Liberation Sans, sans-serif">Overweight</text>
<rect x="602" y="366.50" width="13.6" height="10.9" fill="#D70023"/>
<text x="620.70" y="375.00" font-size="8.1" fill="#1A1A1A" font-family="DejaVu Sans, Liberation Sans, sans-serif">Obese</text>
</g>
</svg>
</body></html>
